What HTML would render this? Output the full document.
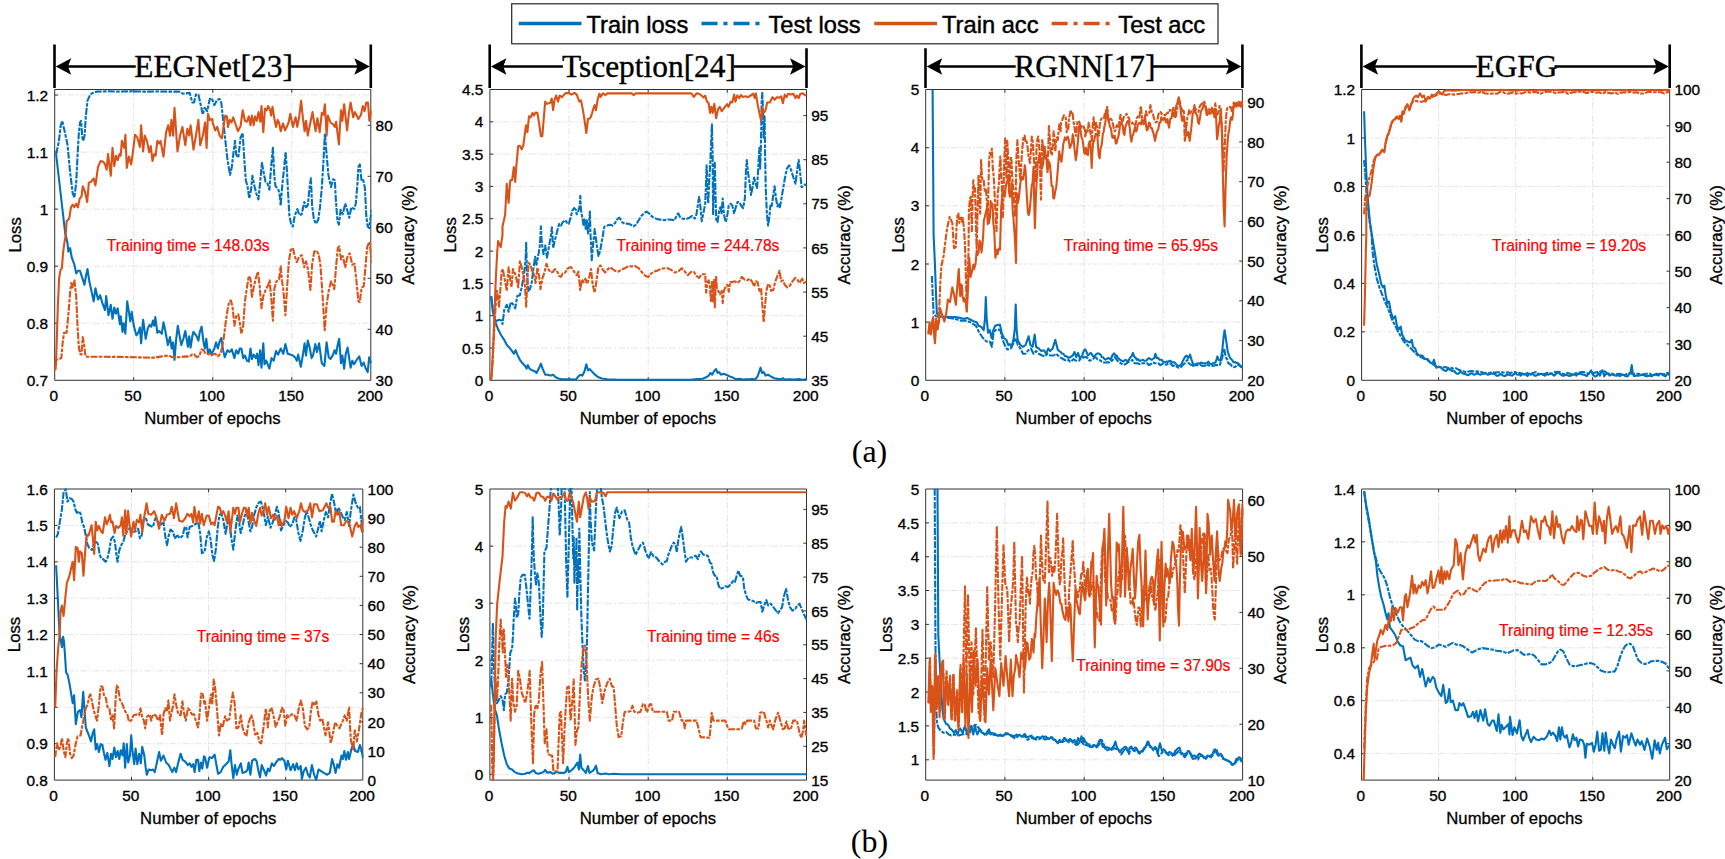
<!DOCTYPE html>
<html><head><meta charset="utf-8"><title>Training curves</title><style>html,body{margin:0;padding:0;background:#fff}svg{display:block}</style></head><body>
<svg width="1725" height="859" viewBox="0 0 1725 859" font-family="'Liberation Sans',Arial,sans-serif">
<rect width="1725" height="859" fill="#fff"/>
<g id="p1">
<clipPath id="c1"><rect x="54.1" y="88.5" width="317.5" height="292.8"/></clipPath>
<path d="M133.7,89.5V380.3M212.8,89.5V380.3M291.8,89.5V380.3M54.7,323.2H370.8M54.7,266.2H370.8M54.7,209.1H370.8M54.7,152.1H370.8M54.7,95.0H370.8" stroke="#e5e5e5" stroke-width="1" stroke-dasharray="7 1.9 2 1.9" fill="none"/>
<path d="M54.7,89.5H370.8V380.3H54.7ZM133.7,380.3v-3.2M133.7,89.5v3.2M212.8,380.3v-3.2M212.8,89.5v3.2M291.8,380.3v-3.2M291.8,89.5v3.2M54.7,323.2h3.2M54.7,266.2h3.2M54.7,209.1h3.2M54.7,152.1h3.2M54.7,95.0h3.2M370.8,329.3h-3.2M370.8,278.3h-3.2M370.8,227.3h-3.2M370.8,176.3h-3.2M370.8,125.3h-3.2" stroke="#333333" stroke-width="1" fill="none"/>
<g clip-path="url(#c1)" fill="none" stroke-linejoin="round" stroke-linecap="butt">
<polyline points="56.1,154.0 65.4,235.0 65.7,235.0 67.5,242.9 68.3,251.6 70.1,248.1 71.8,257.7 74.4,264.7 76.2,273.4 77.9,270.8 80.0,270.8 82.3,277.8 84.4,284.8 86.1,275.2 87.5,269.0 89.3,281.3 91.4,290.9 93.7,301.4 95.4,288.3 98.0,299.6 100.1,295.2 102.4,303.1 105.0,310.1 106.2,296.1 108.5,315.3 110.8,304.8 112.5,318.8 114.3,307.5 116.0,313.6 117.7,308.3 119.8,324.1 120.7,316.2 122.5,331.9 123.7,323.2 125.4,333.7 127.2,301.4 128.9,311.8 130.3,321.4 131.7,311.8 133.8,325.8 136.4,335.4 138.2,332.8 139.9,327.5 141.1,343.3 143.1,319.7 145.7,338.9 147.8,328.4 149.5,324.9 151.3,326.7 153.0,320.6 154.2,325.8 155.3,317.1 157.4,332.8 159.1,331.0 161.8,333.7 163.5,322.3 165.2,330.2 167.9,345.0 170.0,337.1 171.7,348.5 173.1,342.4 174.5,359.8 176.1,339.8 177.8,325.8 180.1,338.9 181.3,345.0 183.6,338.0 185.3,331.0 187.9,346.8 189.2,336.3 190.6,347.6 192.3,336.3 193.5,331.9 196.7,336.3 198.4,340.6 199.8,331.9 201.6,326.7 203.7,343.3 204.9,348.5 206.3,338.9 208.0,353.7 209.8,349.4 211.5,354.6 211.7,353.7 214.4,348.5 216.1,342.4 217.9,348.5 219.6,341.5 221.3,338.0 223.1,350.2 224.8,357.2 227.5,350.2 229.6,352.0 231.8,349.4 234.4,358.1 236.2,350.2 238.3,353.7 239.7,348.5 241.4,348.5 243.2,358.1 244.9,355.5 247.0,360.7 248.8,361.6 250.5,348.5 251.9,359.0 253.7,354.6 255.7,358.1 257.1,353.7 258.5,365.1 260.1,350.2 261.5,367.7 263.3,343.3 264.5,364.2 266.2,360.7 269.4,368.6 271.5,358.1 273.7,360.7 276.0,351.1 278.1,354.6 280.7,348.5 283.3,353.7 285.4,344.1 287.7,353.7 290.3,354.6 292.9,355.5 295.6,358.1 296.8,360.7 298.2,354.6 300.8,366.8 303.1,353.7 304.6,343.3 306.0,355.5 307.8,340.6 309.5,346.8 311.6,358.1 313.0,355.5 315.3,344.1 316.9,352.0 319.1,343.3 321.8,363.3 324.4,366.0 326.6,342.4 328.7,357.2 330.5,359.0 333.1,354.6 334.5,350.2 336.1,353.7 338.0,343.3 339.2,338.9 341.0,363.3 342.4,355.5 344.1,368.6 345.8,353.7 347.6,347.6 350.6,367.7 352.3,360.7 354.1,364.2 356.7,359.8 359.3,356.4 361.6,366.0 363.7,362.5 365.4,367.7 367.7,372.1 369.2,357.2 370.6,362.5 371.5,360.7" stroke="#0072BD" stroke-width="2.1"/>
<polyline points="56.1,154.0 58.7,142.6 60.8,125.2 62.2,120.8 64.8,132.1 67.5,144.4 70.1,172.3 72.7,193.3 74.4,197.6 76.2,182.8 77.6,154.8 78.8,133.9 80.0,122.5 81.1,120.8 82.3,137.4 83.2,140.9 84.6,135.6 85.8,116.4 87.5,100.7 90.2,94.6 93.7,92.3 97.1,91.6 107.6,91.3 119.8,91.6 132.1,91.3 144.3,91.6 156.5,91.5 168.7,91.6 179.2,91.6 182.7,93.7 189.7,92.9 192.3,102.5 194.1,102.5 195.8,94.6 198.4,94.6 200.2,102.5 202.8,114.7 204.5,107.7 207.2,111.2 209.8,99.0 211.5,98.1 211.7,98.1 214.4,105.1 217.0,99.8 219.6,99.0 221.3,102.5 223.1,119.9 224.8,135.6 227.5,160.1 230.1,174.9 231.8,167.1 233.6,151.4 235.0,140.9 236.2,154.8 238.3,157.5 240.6,137.4 242.7,133.0 244.0,154.8 245.8,180.2 247.5,186.3 249.3,198.5 251.0,189.8 252.4,175.8 254.5,186.3 256.3,193.3 258.4,199.4 260.1,182.8 261.9,162.7 263.3,170.6 265.5,181.9 267.6,183.7 269.4,189.8 271.1,167.1 272.9,147.9 274.3,175.8 275.5,186.3 278.1,188.9 279.5,193.3 280.7,205.5 282.5,182.8 284.2,167.1 285.6,152.2 286.8,168.8 288.1,193.3 289.4,216.0 291.2,224.7 292.9,226.4 294.7,216.0 297.3,209.0 299.4,215.1 301.7,214.2 304.3,202.0 306.0,207.2 307.8,205.5 309.5,188.0 310.9,178.4 312.1,205.5 313.9,219.5 316.0,223.8 318.3,219.5 320.0,207.2 321.8,188.0 323.5,160.1 324.9,133.0 326.6,154.8 328.4,174.9 331.0,187.1 333.1,179.3 334.8,180.2 336.1,203.7 337.5,221.2 338.9,224.7 340.6,209.8 342.7,214.2 345.3,203.7 347.4,210.7 349.2,217.7 351.4,207.2 354.1,209.0 355.8,203.7 357.5,182.8 358.4,167.1 359.8,164.4 361.6,181.0 363.3,180.2 364.9,188.0 366.3,216.0 367.7,226.4 369.2,228.2 370.6,217.7 371.5,209.8" stroke="#0072BD" stroke-width="2.1" stroke-dasharray="6.9 1.3 3.6 1.3"/>
<polyline points="55.2,370.3 56.1,360.7 57.0,332.8 57.9,304.8 59.1,278.7 60.5,269.9 61.9,268.2 63.1,252.5 64.3,243.7 65.7,235.0 66.6,221.2 69.2,218.6 71.0,207.2 72.7,204.6 74.4,207.2 76.2,203.7 77.9,207.2 79.7,198.5 81.4,196.8 82.8,186.3 84.9,191.5 87.2,202.0 88.8,182.8 91.0,181.9 93.7,178.4 95.4,185.4 98.0,167.1 100.6,161.0 103.3,161.8 105.0,164.4 106.7,169.7 108.0,154.0 110.8,175.8 112.5,147.9 114.3,166.2 116.0,155.7 117.7,160.1 119.5,154.0 120.7,155.7 121.9,140.9 124.2,147.9 125.4,134.8 126.8,167.9 128.9,156.6 131.2,164.4 132.9,152.2 135.0,134.8 137.3,137.4 139.9,147.0 141.1,125.2 143.1,151.4 144.8,135.6 146.9,140.9 149.2,152.2 150.8,146.1 152.5,161.0 154.2,154.0 155.6,155.7 157.4,140.9 159.1,143.5 160.5,140.9 163.5,156.6 166.1,132.1 168.2,125.2 170.0,135.6 171.4,119.9 173.1,135.6 174.5,107.7 177.5,151.4 180.1,135.6 182.4,126.9 185.3,145.2 187.4,128.7 189.2,135.6 190.6,125.2 193.5,149.6 195.8,136.5 198.4,119.9 200.2,145.2 202.8,135.6 205.1,122.5 206.6,147.9 208.0,113.8 209.8,119.9 212.4,119.0 212.6,122.5 215.2,130.4 217.3,126.9 219.6,135.6 221.9,138.3 224.0,123.4 225.2,115.6 226.9,116.4 228.0,126.9 229.7,119.9 231.5,122.5 233.2,117.3 236.2,126.0 237.9,131.3 240.6,126.0 242.7,110.3 244.9,120.8 247.0,121.7 248.8,116.4 250.5,125.2 251.9,115.6 253.7,125.2 255.0,116.4 256.8,120.8 258.5,112.1 260.3,121.7 261.5,106.0 263.3,132.1 265.0,108.6 266.7,110.3 268.1,106.0 270.2,110.3 271.1,115.6 272.5,106.8 274.3,118.2 276.0,126.9 277.7,119.9 279.0,122.5 280.7,131.3 283.0,123.4 285.1,130.4 286.8,126.9 288.6,122.5 290.3,113.8 292.9,126.9 295.6,117.3 297.3,126.9 299.1,117.3 301.1,100.7 302.9,118.2 304.6,131.3 306.0,120.8 307.8,135.6 310.4,122.5 312.5,112.1 314.2,122.5 315.6,131.3 317.4,118.2 319.7,132.1 321.8,112.9 323.5,114.7 324.9,104.2 326.6,135.6 327.9,115.6 330.5,122.5 333.1,124.3 334.8,126.9 336.1,121.7 338.9,144.4 341.0,110.3 342.4,120.8 344.1,104.2 347.1,130.4 348.8,113.8 350.6,102.5 353.2,117.3 354.9,112.1 358.4,119.0 361.0,114.7 362.8,106.0 364.5,111.2 366.3,102.5 368.0,102.5 369.4,120.8 371.5,110.3" stroke="#D95319" stroke-width="2.1"/>
<polyline points="55.2,369.5 56.1,359.8 58.7,359.3 61.3,358.1 62.6,343.3 64.0,332.8 66.6,332.8 68.3,315.3 70.1,292.6 71.3,283.0 72.7,287.4 74.4,280.4 76.2,296.1 77.6,327.5 78.8,346.8 80.0,353.7 81.4,354.6 82.7,337.1 84.0,343.3 85.4,356.4 87.5,356.7 119.8,356.9 149.5,357.6 154.8,357.6 161.8,356.4 168.7,355.5 172.2,357.2 179.2,357.2 186.2,356.4 189.7,356.7 192.3,354.3 194.1,354.3 196.7,357.2 199.3,356.0 201.6,349.4 203.7,350.2 205.4,353.7 208.0,353.7 211.5,355.5 212.6,354.6 215.2,353.7 217.9,356.4 220.5,353.7 222.2,346.8 224.0,336.3 225.7,322.3 227.5,310.1 229.2,301.4 231.0,300.5 232.7,308.3 234.4,325.8 236.2,316.2 238.3,314.4 239.7,322.3 241.4,333.7 243.2,325.8 244.9,301.4 246.7,289.1 248.8,276.0 250.5,278.7 251.9,297.0 253.7,287.4 255.7,278.7 258.0,271.7 259.8,287.4 261.5,308.3 263.3,296.1 265.9,289.1 268.0,285.6 269.7,280.4 271.5,301.4 272.9,320.6 274.3,289.1 276.4,281.3 279.0,279.5 280.7,266.4 281.9,280.4 283.3,289.1 285.4,315.3 287.2,285.6 288.9,261.2 290.7,249.8 292.9,248.1 294.7,256.0 296.8,262.1 299.1,256.8 301.7,255.1 304.3,267.3 306.0,261.2 308.1,269.9 310.4,290.0 312.1,264.7 314.2,251.6 316.5,250.7 318.6,254.2 320.4,264.7 322.6,296.1 324.7,330.2 326.6,304.8 328.7,290.9 331.0,281.3 333.1,285.6 334.3,289.1 336.1,266.4 337.8,248.1 339.2,246.3 341.0,259.4 342.7,256.0 345.3,267.3 347.1,257.7 349.7,253.3 352.3,264.7 354.6,263.8 356.7,283.9 358.4,301.4 359.8,302.2 361.6,287.4 363.7,286.5 365.4,267.3 367.2,247.2 369.2,242.0 370.6,250.7 371.5,262.9" stroke="#D95319" stroke-width="2.1" stroke-dasharray="6.9 1.3 3.6 1.3"/>
</g>
<g font-size="15.4" fill="#000" stroke="#000" stroke-width="0.35">
<text x="53.9" y="400.9" text-anchor="middle">0</text>
<text x="132.9" y="400.9" text-anchor="middle">50</text>
<text x="211.9" y="400.9" text-anchor="middle">100</text>
<text x="291.0" y="400.9" text-anchor="middle">150</text>
<text x="370.0" y="400.9" text-anchor="middle">200</text>
<text x="48.2" y="385.9" text-anchor="end">0.7</text>
<text x="48.2" y="328.8" text-anchor="end">0.8</text>
<text x="48.2" y="271.8" text-anchor="end">0.9</text>
<text x="48.2" y="214.7" text-anchor="end">1</text>
<text x="48.2" y="157.7" text-anchor="end">1.1</text>
<text x="48.2" y="100.6" text-anchor="end">1.2</text>
<text x="375.6" y="385.9">30</text>
<text x="375.6" y="334.9">40</text>
<text x="375.6" y="283.9">50</text>
<text x="375.6" y="232.9">60</text>
<text x="375.6" y="181.9">70</text>
<text x="375.6" y="130.9">80</text>
</g>
<g font-size="16.7" fill="#000" stroke="#000" stroke-width="0.3" text-anchor="middle">
<text x="212.4" y="423.8">Number of epochs</text>
<text transform="translate(20.700000000000003,234.9) rotate(-90)">Loss</text>
<text transform="translate(414.2,234.9) rotate(-90)">Accuracy (%)</text>
</g>
<text x="106.8" y="250.5" font-size="15.6" fill="#ff0000" stroke="#ff0000" stroke-width="0.2">Training time = 148.03s</text>
<path d="M54.5,44.6V88M370.8,44.6V88" stroke="#000" stroke-width="2.6"/>
<path d="M64.7,66.5H135.75M289.75,66.5H360.8" stroke="#000" stroke-width="2.3"/>
<path d="M55.7,66.5l15.5,-8.2l-3.2,8.2l3.2,8.2zM369.8,66.5l-15.5,-8.2l3.2,8.2l-3.2,8.2z" fill="#000"/>
<text x="213.6" y="76.9" font-family="'Liberation Serif',serif" font-size="31.4" text-anchor="middle" fill="#000" stroke="#000" stroke-width="0.35">EEGNet[23]</text>
</g>
<g id="p2">
<clipPath id="c2"><rect x="489.3" y="88.5" width="318.0" height="292.8"/></clipPath>
<path d="M569.0,89.5V380.3M648.2,89.5V380.3M727.3,89.5V380.3M489.9,348.0H806.5M489.9,315.7H806.5M489.9,283.4H806.5M489.9,251.1H806.5M489.9,218.7H806.5M489.9,186.4H806.5M489.9,154.1H806.5M489.9,121.8H806.5" stroke="#e5e5e5" stroke-width="1" stroke-dasharray="7 1.9 2 1.9" fill="none"/>
<path d="M489.9,89.5H806.5V380.3H489.9ZM569.0,380.3v-3.2M569.0,89.5v3.2M648.2,380.3v-3.2M648.2,89.5v3.2M727.3,380.3v-3.2M727.3,89.5v3.2M489.9,348.0h3.2M489.9,315.7h3.2M489.9,283.4h3.2M489.9,251.1h3.2M489.9,218.7h3.2M489.9,186.4h3.2M489.9,154.1h3.2M489.9,121.8h3.2M806.5,336.2h-3.2M806.5,292.1h-3.2M806.5,247.9h-3.2M806.5,203.8h-3.2M806.5,159.7h-3.2M806.5,115.6h-3.2" stroke="#333333" stroke-width="1" fill="none"/>
<g clip-path="url(#c2)" fill="none" stroke-linejoin="round" stroke-linecap="butt">
<polyline points="491.1,296.1 492.9,311.8 495.5,322.3 498.1,329.3 500.7,334.5 504.2,339.8 506.8,345.0 509.4,347.6 512.1,351.1 513.8,353.7 515.6,350.2 517.3,354.6 519.9,359.8 522.5,363.3 525.2,366.0 526.6,368.6 527.8,365.1 529.5,368.6 532.1,370.3 534.8,371.2 536.5,372.9 538.8,368.6 540.9,363.7 542.6,368.6 545.2,374.7 547.9,374.7 550.5,375.6 553.1,374.7 555.7,377.3 558.3,378.5 561.8,379.2 568.8,379.2 575.8,379.6 578.4,376.4 580.7,374.7 582.4,375.6 584.5,371.2 586.3,364.2 588.0,370.3 589.8,369.1 592.4,372.1 595.0,374.7 598.5,377.3 602.0,378.5 607.2,379.2 616.0,379.6 633.4,379.8 650.0,379.8 652.0,379.9 676.4,379.9 690.4,379.8 697.4,379.1 702.6,378.7 706.1,377.3 708.7,375.6 710.5,372.9 712.2,374.7 714.0,371.2 716.1,369.1 717.5,372.9 719.2,372.1 721.0,374.7 723.6,373.8 726.2,374.7 729.7,376.4 732.3,377.3 735.8,379.2 739.3,378.9 742.8,379.6 746.3,379.2 749.8,379.2 752.4,378.9 755.0,379.6 757.6,376.4 759.4,371.2 760.6,367.7 762.0,372.9 763.7,372.1 765.5,375.6 768.1,374.7 770.7,376.4 774.2,378.2 777.7,378.9 781.2,379.2 782.9,378.2 784.7,379.6 789.9,379.2 795.2,379.6 798.7,379.1 802.2,379.8 806.5,379.2" stroke="#0072BD" stroke-width="2.1"/>
<polyline points="491.1,296.1 492.9,310.1 495.5,321.4 499.0,319.7 501.6,320.6 502.5,324.1 504.2,310.1 506.8,304.8 508.6,311.8 510.8,302.2 512.9,304.0 515.2,308.3 517.3,296.1 519.9,295.2 521.7,287.4 523.8,276.0 525.5,261.2 526.2,242.9 526.9,269.9 528.1,290.9 530.0,289.1 531.8,282.1 533.5,268.2 535.1,256.8 536.5,264.7 538.3,255.1 539.7,247.2 540.5,235.0 540.9,226.4 541.7,242.0 543.5,254.2 545.2,245.5 547.0,257.7 548.7,248.1 551.0,235.0 551.9,227.3 553.1,248.1 554.8,240.2 556.2,235.0 557.5,229.9 559.2,223.8 561.0,225.6 562.7,222.1 565.3,220.3 567.1,222.9 568.8,223.8 570.6,217.7 572.3,210.7 574.1,208.1 575.8,209.8 576.7,214.2 578.4,210.7 579.8,205.5 580.3,195.9 581.0,210.7 582.4,217.7 583.7,226.4 584.5,219.5 585.9,229.9 586.8,220.3 588.0,233.4 588.9,222.9 589.4,219.5 589.9,211.6 590.5,235.0 591.2,245.5 591.7,260.3 592.7,248.1 594.1,235.0 594.7,229.1 595.4,235.0 596.8,245.5 598.5,256.0 600.2,250.7 602.0,240.2 603.0,235.0 603.7,229.1 604.6,226.4 607.2,225.6 609.8,224.7 612.5,225.6 615.1,222.9 617.7,218.6 619.5,217.7 622.1,222.1 624.7,223.8 627.3,223.5 629.9,224.2 633.4,226.4 636.0,224.7 638.7,220.3 641.3,216.0 643.9,213.3 646.5,211.6 649.1,213.3 650.2,215.1 653.7,217.7 657.2,219.1 660.7,219.8 664.2,220.3 667.7,219.5 671.2,219.8 674.7,220.3 676.8,215.1 678.2,213.3 679.9,216.8 682.5,218.6 686.0,219.1 689.5,217.7 692.1,216.0 694.8,218.6 696.5,214.2 698.3,202.0 699.1,196.8 700.5,207.2 701.7,221.2 703.5,212.5 705.2,203.7 706.1,181.0 706.6,165.3 707.5,189.8 708.2,203.7 709.3,179.3 710.5,158.3 711.4,137.4 711.9,124.3 712.6,154.8 713.1,214.2 714.0,182.8 714.8,162.7 715.4,189.8 716.2,219.5 717.5,222.1 719.2,210.7 720.4,207.2 721.5,213.3 722.7,198.5 723.9,214.2 725.7,222.1 727.1,216.0 728.8,205.5 730.6,203.7 732.3,205.5 734.1,213.3 735.8,207.2 737.5,202.0 739.3,202.0 741.0,205.5 743.1,208.1 744.9,198.5 745.9,172.3 746.8,160.1 748.0,172.3 749.8,184.5 751.0,195.0 752.4,188.0 754.1,177.5 755.9,184.5 757.1,188.0 758.5,163.6 759.4,147.9 760.2,168.8 761.1,137.4 761.6,102.5 762.3,92.9 763.0,111.2 763.7,137.4 764.6,116.4 765.1,154.8 765.8,189.8 766.9,214.2 768.1,225.6 769.3,217.7 770.4,205.5 771.6,207.2 773.3,195.0 774.6,186.3 776.0,198.5 777.4,206.4 778.6,204.6 779.8,207.2 781.2,200.2 782.9,189.8 784.7,179.3 786.8,168.8 789.1,165.3 791.3,170.6 793.4,177.5 795.5,183.7 797.3,168.8 798.7,160.1 800.1,172.3 801.6,187.1 803.0,186.3 804.8,184.5 806.5,185.4" stroke="#0072BD" stroke-width="2.1" stroke-dasharray="6.9 1.3 3.6 1.3"/>
<polyline points="491.1,379.9 492.0,371.2 493.4,339.8 494.6,310.1 495.8,278.7 497.2,252.5 498.1,241.1 500.7,247.2 502.5,235.0 502.5,226.4 505.1,215.1 506.8,183.7 508.6,202.9 510.3,180.2 512.1,180.2 513.8,167.1 515.2,181.9 516.4,165.3 518.2,146.1 519.9,145.8 521.7,149.3 523.4,145.2 526.0,125.2 527.4,132.1 529.0,116.4 530.7,117.3 532.5,112.9 533.9,115.6 535.6,112.6 537.4,112.9 539.1,123.4 540.9,136.2 542.3,136.2 543.5,121.7 545.2,101.6 547.0,103.9 550.5,102.5 551.7,98.6 553.1,110.0 554.5,99.8 556.2,95.5 558.0,101.6 559.7,95.5 561.8,97.2 565.3,93.4 568.8,92.9 571.4,94.6 574.4,92.9 576.7,94.6 579.3,101.6 581.0,100.4 582.8,109.4 584.5,119.9 586.3,133.0 588.0,119.0 590.3,118.2 591.9,113.8 593.6,107.7 594.7,105.1 595.9,110.3 597.6,99.8 599.4,93.7 600.6,96.9 602.9,93.4 605.5,95.1 607.2,93.4 631.7,93.4 633.8,95.1 635.5,93.4 650.0,93.4 652.0,93.4 691.3,93.4 693.9,96.9 696.5,93.4 699.1,93.7 701.7,95.8 703.5,97.6 705.2,95.8 707.0,101.6 708.7,103.3 710.0,112.9 711.4,106.8 712.7,112.9 714.3,103.9 716.1,118.2 718.0,109.4 719.7,106.8 721.8,111.2 724.4,107.7 727.1,104.2 728.5,106.8 730.6,101.6 732.3,102.5 734.1,94.6 735.4,101.6 737.2,95.5 739.3,98.1 741.0,95.1 742.8,96.9 745.4,96.3 748.0,97.2 750.6,95.5 753.3,93.7 754.7,98.1 755.9,93.4 757.6,104.2 759.4,112.9 761.1,120.8 762.5,107.7 763.7,112.9 765.5,110.3 767.2,102.5 769.8,102.5 772.5,97.2 774.6,99.8 776.8,97.2 779.5,97.6 781.2,96.3 782.9,103.3 784.7,94.6 786.4,97.2 788.2,93.7 790.8,94.6 793.4,93.7 795.5,98.1 796.9,95.5 798.7,98.1 800.4,93.7 803.0,93.4 804.8,95.1 806.5,95.1" stroke="#D95319" stroke-width="2.1"/>
<polyline points="491.1,379.9 492.9,357.2 494.1,332.8 495.5,308.3 496.9,290.9 498.1,297.9 499.0,306.6 500.4,289.1 501.6,271.7 502.8,269.0 504.2,276.9 505.6,283.9 506.8,290.9 508.6,267.3 510.3,280.4 511.5,287.4 512.9,269.0 514.7,272.5 516.4,278.7 518.2,287.4 519.9,261.2 521.7,267.3 523.4,275.2 524.8,283.9 526.2,306.6 527.3,280.4 528.7,262.9 530.4,264.7 532.1,270.8 533.9,274.3 535.6,283.0 537.4,267.3 539.1,276.0 540.5,289.1 542.3,278.7 544.4,272.5 546.5,263.8 548.7,269.9 551.0,272.5 553.1,271.7 554.8,269.0 556.9,270.8 559.2,276.0 561.0,276.9 562.7,273.4 565.3,272.5 567.1,269.0 569.7,267.3 571.4,267.3 574.1,271.7 576.7,275.2 578.4,271.7 580.2,290.0 581.9,279.5 583.7,282.1 585.4,278.7 587.1,283.9 588.9,278.7 591.0,269.0 592.7,284.8 594.7,292.6 596.8,278.7 598.5,266.4 600.6,265.6 602.9,269.9 605.1,272.5 607.2,269.9 609.8,267.3 612.5,269.0 615.1,270.8 617.7,271.7 621.2,269.9 624.7,268.2 628.2,266.4 631.7,266.4 635.2,266.1 638.7,268.2 642.2,272.5 645.6,276.0 648.3,276.9 650.2,274.3 653.7,271.7 657.2,270.8 660.7,269.0 664.2,268.2 667.7,268.2 671.2,269.9 674.7,272.5 678.2,271.7 681.7,268.2 684.3,270.8 687.8,275.2 691.3,271.7 693.9,271.7 696.5,276.0 699.1,277.8 701.7,274.3 705.2,274.3 706.1,292.6 707.5,282.1 708.7,280.4 710.0,287.4 711.0,302.2 712.2,280.4 713.1,301.4 714.3,278.7 714.8,307.5 716.1,276.0 716.9,289.1 718.3,290.9 720.1,294.4 721.8,290.9 722.7,303.1 723.9,290.9 725.7,286.5 727.4,284.8 728.8,291.7 730.2,282.1 732.3,282.1 734.9,281.3 737.5,283.0 740.2,280.4 741.9,276.9 744.5,279.5 747.1,280.4 749.8,278.7 752.4,282.1 754.1,286.5 755.9,281.3 757.6,282.1 759.4,290.9 761.1,289.1 762.3,304.8 763.7,322.3 765.1,304.8 766.4,290.9 768.1,283.9 769.8,285.6 771.1,290.9 773.3,290.0 775.1,282.1 777.4,276.0 779.5,270.8 781.2,281.3 782.9,280.4 784.7,284.8 787.3,287.4 789.9,285.6 792.5,281.3 795.2,277.8 797.3,279.5 799.5,283.0 802.2,278.7 804.2,283.0 806.5,281.3" stroke="#D95319" stroke-width="2.1" stroke-dasharray="6.9 1.3 3.6 1.3"/>
</g>
<g font-size="15.4" fill="#000" stroke="#000" stroke-width="0.35">
<text x="489.1" y="400.9" text-anchor="middle">0</text>
<text x="568.2" y="400.9" text-anchor="middle">50</text>
<text x="647.4" y="400.9" text-anchor="middle">100</text>
<text x="726.5" y="400.9" text-anchor="middle">150</text>
<text x="805.7" y="400.9" text-anchor="middle">200</text>
<text x="483.4" y="385.9" text-anchor="end">0</text>
<text x="483.4" y="353.6" text-anchor="end">0.5</text>
<text x="483.4" y="321.3" text-anchor="end">1</text>
<text x="483.4" y="289.0" text-anchor="end">1.5</text>
<text x="483.4" y="256.7" text-anchor="end">2</text>
<text x="483.4" y="224.3" text-anchor="end">2.5</text>
<text x="483.4" y="192.0" text-anchor="end">3</text>
<text x="483.4" y="159.7" text-anchor="end">3.5</text>
<text x="483.4" y="127.4" text-anchor="end">4</text>
<text x="483.4" y="95.1" text-anchor="end">4.5</text>
<text x="811.3" y="385.9">35</text>
<text x="811.3" y="341.8">45</text>
<text x="811.3" y="297.7">55</text>
<text x="811.3" y="253.5">65</text>
<text x="811.3" y="209.4">75</text>
<text x="811.3" y="165.3">85</text>
<text x="811.3" y="121.2">95</text>
</g>
<g font-size="16.7" fill="#000" stroke="#000" stroke-width="0.3" text-anchor="middle">
<text x="647.9" y="423.8">Number of epochs</text>
<text transform="translate(455.9,234.9) rotate(-90)">Loss</text>
<text transform="translate(849.9,234.9) rotate(-90)">Accuracy (%)</text>
</g>
<text x="616.6" y="250.5" font-size="15.6" fill="#ff0000" stroke="#ff0000" stroke-width="0.2">Training time = 244.78s</text>
<path d="M489.7,44.6V88M806.5,48.2V88" stroke="#000" stroke-width="2.6"/>
<path d="M499.9,66.5H562.9000000000001M733.5,66.5H796.5" stroke="#000" stroke-width="2.3"/>
<path d="M490.9,66.5l15.5,-8.2l-3.2,8.2l3.2,8.2zM805.5,66.5l-15.5,-8.2l3.2,8.2l-3.2,8.2z" fill="#000"/>
<text x="649.0" y="76.9" font-family="'Liberation Serif',serif" font-size="31.4" text-anchor="middle" fill="#000" stroke="#000" stroke-width="0.35">Tsception[24]</text>
</g>
<g id="p3">
<clipPath id="c3"><rect x="925.1" y="88.5" width="318.1" height="292.8"/></clipPath>
<path d="M1004.9,89.5V380.3M1084.1,89.5V380.3M1163.2,89.5V380.3M925.7,322.1H1242.4M925.7,264.0H1242.4M925.7,205.8H1242.4M925.7,147.7H1242.4" stroke="#e5e5e5" stroke-width="1" stroke-dasharray="7 1.9 2 1.9" fill="none"/>
<path d="M925.7,89.5H1242.4V380.3H925.7ZM1004.9,380.3v-3.2M1004.9,89.5v3.2M1084.1,380.3v-3.2M1084.1,89.5v3.2M1163.2,380.3v-3.2M1163.2,89.5v3.2M925.7,322.1h3.2M925.7,264.0h3.2M925.7,205.8h3.2M925.7,147.7h3.2M1242.4,340.6h-3.2M1242.4,300.8h-3.2M1242.4,261.1h-3.2M1242.4,221.4h-3.2M1242.4,181.7h-3.2M1242.4,141.9h-3.2M1242.4,102.2h-3.2" stroke="#333333" stroke-width="1" fill="none"/>
<g clip-path="url(#c3)" fill="none" stroke-linejoin="round" stroke-linecap="butt">
<polyline points="932.6,89.7 933.6,235.0 934.8,261.2 936.1,296.1 936.9,313.6 939.2,316.2 944.4,316.7 949.7,317.1 954.9,317.1 960.2,317.9 963.7,318.8 967.1,317.9 970.6,319.7 974.1,321.4 976.7,322.3 978.5,325.8 981.1,326.7 983.7,330.2 985.0,318.8 985.8,297.0 986.7,318.8 988.1,332.8 989.8,330.2 991.6,338.0 993.3,330.2 995.1,325.8 997.7,324.9 1000.0,324.9 1001.7,332.8 1003.8,338.0 1006.4,339.8 1008.2,345.0 1009.9,344.1 1011.7,346.8 1013.4,339.8 1014.8,329.3 1015.7,304.5 1016.6,329.3 1017.8,340.6 1020.4,345.0 1023.0,346.8 1025.6,345.0 1027.4,339.8 1028.6,336.3 1030.4,345.0 1032.6,346.8 1034.7,334.5 1036.1,346.8 1038.7,348.5 1041.4,351.1 1044.0,350.2 1046.1,353.7 1048.3,348.5 1050.1,351.1 1052.7,348.5 1055.3,339.8 1057.9,350.2 1060.6,352.0 1062.0,353.5 1063.2,353.7 1065.2,356.3 1066.7,356.4 1068.7,357.9 1070.2,357.2 1071.1,356.5 1072.8,355.5 1074.5,352.0 1076.3,357.2 1078.0,352.9 1079.8,358.1 1081.4,356.8 1082.4,355.5 1082.6,353.7 1084.2,350.1 1085.2,349.4 1086.5,351.8 1087.9,355.5 1089.2,354.3 1090.5,352.9 1091.4,353.4 1093.1,356.4 1094.2,356.6 1095.7,354.6 1097.7,353.3 1099.2,353.7 1100.8,354.9 1101.8,357.2 1103.2,357.3 1104.4,359.0 1105.7,359.6 1107.9,358.1 1109.0,358.1 1110.6,359.8 1112.3,355.5 1114.0,353.4 1115.7,355.6 1116.7,355.5 1117.8,358.1 1119.3,359.0 1120.6,360.3 1121.9,360.7 1123.3,361.4 1125.4,359.8 1127.3,361.0 1128.9,359.8 1130.5,357.2 1131.5,356.4 1132.9,352.9 1134.5,357.2 1135.5,357.6 1136.7,359.8 1137.8,359.1 1139.4,360.7 1140.9,360.6 1142.9,359.8 1144.1,360.6 1146.4,360.7 1147.5,359.1 1149.0,358.1 1150.5,359.1 1151.6,359.8 1152.8,359.0 1154.2,358.1 1155.4,353.7 1156.8,358.1 1158.3,358.0 1159.4,359.8 1161.7,359.8 1162.9,361.6 1164.9,362.4 1166.4,361.6 1167.7,362.0 1169.9,360.7 1171.5,361.7 1173.4,362.5 1174.6,362.3 1176.9,365.1 1178.3,366.2 1180.4,365.1 1181.5,363.9 1183.0,360.7 1184.8,357.2 1186.5,355.5 1188.3,358.1 1190.0,354.6 1191.8,360.7 1193.4,364.5 1194.4,365.1 1196.0,363.9 1197.9,363.3 1199.6,363.6 1201.4,362.5 1202.7,363.4 1204.8,363.3 1206.9,363.2 1208.3,361.6 1209.6,363.6 1211.8,364.2 1213.1,363.2 1215.3,362.5 1216.4,360.2 1217.4,356.4 1218.8,359.8 1220.6,360.7 1222.3,350.2 1223.5,338.0 1224.6,330.2 1225.8,338.0 1227.5,350.2 1228.7,354.8 1230.2,358.1 1232.0,359.9 1233.7,362.5 1235.2,362.1 1237.2,363.3 1238.1,363.1 1239.8,365.1 1241.2,366.8 1242.4,366.0" stroke="#0072BD" stroke-width="2.1"/>
<polyline points="931.9,276.0 932.6,292.6 933.6,313.6 935.7,316.2 939.2,316.7 944.4,317.4 949.7,317.9 954.9,318.8 960.2,320.6 965.4,320.6 970.6,322.3 975.9,325.8 979.4,332.8 982.9,338.0 986.4,341.5 989.8,341.5 991.9,346.8 993.3,334.5 995.1,330.2 997.7,329.3 1000.3,330.2 1002.1,338.0 1004.7,345.0 1007.3,349.4 1010.8,348.5 1013.4,343.3 1015.7,338.0 1017.8,345.0 1020.4,348.5 1023.0,353.7 1025.6,353.7 1028.3,350.2 1030.9,348.5 1033.5,353.7 1036.1,351.1 1038.7,353.7 1042.2,355.5 1044.8,356.4 1047.5,353.7 1050.1,355.5 1053.6,355.5 1056.2,353.7 1059.7,357.2 1063.2,359.0 1065.2,360.3 1066.7,359.8 1068.4,360.1 1070.2,361.6 1071.4,361.1 1073.7,359.0 1075.4,360.5 1077.2,360.7 1078.8,360.6 1080.6,359.0 1081.9,358.9 1083.5,357.2 1085.5,357.0 1087.0,357.2 1088.3,359.5 1089.6,360.7 1091.0,360.1 1093.1,359.0 1094.6,357.4 1095.7,357.2 1097.3,359.2 1098.3,359.8 1100.4,360.5 1101.8,361.6 1103.1,362.6 1105.3,362.5 1107.4,362.3 1108.8,362.5 1110.1,361.1 1112.3,360.7 1113.7,358.3 1114.9,357.2 1116.6,359.7 1117.5,360.7 1119.0,362.2 1121.0,363.3 1123.0,364.8 1125.4,364.2 1127.6,362.6 1128.9,361.6 1130.8,361.1 1132.4,359.8 1134.4,363.1 1135.9,363.3 1137.4,363.3 1140.2,364.2 1142.6,363.3 1144.6,363.3 1146.9,363.3 1149.0,365.1 1151.7,363.5 1153.3,362.5 1154.7,363.2 1156.8,363.3 1158.4,363.4 1160.3,365.1 1162.5,363.8 1164.7,364.2 1166.5,364.7 1169.1,363.3 1171.0,363.6 1172.5,366.0 1175.1,365.3 1176.9,366.8 1178.9,367.8 1181.3,366.8 1183.1,364.5 1184.8,363.3 1186.0,361.5 1187.4,359.8 1188.4,362.7 1190.0,364.2 1191.3,364.7 1193.5,366.0 1196.0,365.2 1197.9,365.1 1200.7,365.0 1202.2,366.0 1205.0,365.8 1206.6,364.2 1209.0,365.6 1211.0,365.1 1213.1,365.9 1215.3,365.1 1217.9,365.1 1219.7,365.1 1221.0,361.7 1222.3,357.2 1224.1,348.5 1225.8,357.2 1227.0,359.1 1228.4,363.3 1230.4,364.3 1231.9,366.0 1233.6,367.1 1235.4,366.8 1236.8,365.0 1238.9,365.1 1240.2,366.3 1242.4,367.7" stroke="#0072BD" stroke-width="2.1" stroke-dasharray="6.9 1.3 3.6 1.3"/>
<polyline points="928.4,334.5 929.6,322.3 930.8,334.5 931.9,325.8 933.1,317.1 934.0,332.8 935.0,343.3 936.1,318.8 937.5,329.3 938.9,322.3 940.1,308.3 941.8,313.6 944.4,321.4 946.2,313.6 947.9,299.6 950.0,302.2 952.3,287.4 954.0,294.4 955.8,304.8 956.5,296.6 957.5,283.9 958.8,269.0 959.4,283.0 960.2,296.1 961.1,284.4 961.9,285.6 962.5,295.9 963.7,301.4 964.5,298.0 965.7,302.2 966.8,311.0 968.0,287.4 969.2,257.7 970.1,269.7 970.6,276.9 971.7,272.4 972.4,269.9 973.3,264.6 974.1,269.0 975.5,264.3 976.7,250.7 977.6,255.0 978.5,252.5 979.5,240.6 980.2,242.0 981.5,252.5 982.5,243.7 983.2,235.0 983.8,220.8 984.6,217.7 986.2,210.9 987.2,207.2 988.2,221.4 989.0,222.9 990.0,216.5 990.7,201.1 991.5,206.6 992.5,203.7 993.3,222.5 994.2,229.9 995.4,257.7 996.8,249.9 997.7,254.2 998.6,248.5 1000.0,249.8 1001.2,207.2 1002.3,195.2 1002.9,189.8 1003.9,190.7 1004.7,196.8 1005.6,188.1 1006.4,182.8 1007.2,180.8 1008.2,175.8 1009.1,192.5 1009.9,196.8 1010.9,195.0 1011.7,182.8 1012.7,210.9 1013.4,217.7 1014.9,237.9 1016.0,262.9 1016.9,193.3 1018.0,202.9 1018.7,198.5 1019.7,189.7 1020.4,182.8 1021.9,176.8 1023.0,179.3 1024.1,171.9 1024.8,165.3 1025.5,169.9 1026.5,189.8 1027.8,212.0 1028.6,215.1 1029.5,212.4 1030.9,196.8 1031.7,185.3 1032.6,182.8 1033.5,167.1 1034.1,197.6 1034.9,228.2 1036.0,194.0 1036.6,182.8 1037.6,164.3 1038.4,160.1 1039.4,154.8 1040.1,154.8 1041.4,169.1 1042.2,167.1 1043.1,164.4 1044.0,147.9 1044.7,146.6 1045.7,158.3 1046.6,159.2 1047.5,172.3 1048.2,166.7 1049.2,161.8 1050.1,165.4 1051.0,177.5 1051.6,185.9 1052.7,186.3 1053.3,198.1 1054.1,198.5 1055.4,190.3 1056.2,188.0 1057.0,178.9 1057.9,168.8 1059.2,151.4 1060.4,158.4 1061.4,161.8 1062.3,154.5 1063.2,144.4 1064.3,140.1 1064.9,137.4 1066.2,140.0 1067.5,136.5 1068.5,138.5 1069.8,147.9 1071.2,144.8 1071.9,142.6 1072.8,134.4 1073.7,140.0 1074.7,150.7 1075.8,160.1 1076.6,154.9 1078.0,140.9 1079.0,126.2 1079.8,125.2 1080.7,131.3 1081.5,137.4 1082.5,139.7 1083.3,145.2 1084.2,153.0 1085.0,153.1 1085.2,154.0 1085.9,147.8 1087.0,154.0 1087.9,155.1 1088.7,144.4 1089.3,142.3 1090.1,140.9 1091.0,152.6 1091.7,167.9 1092.3,153.7 1093.1,142.6 1093.9,141.5 1094.8,137.4 1095.6,134.1 1096.6,133.9 1097.4,134.4 1098.0,146.1 1098.8,155.8 1099.6,158.3 1100.6,148.3 1101.8,144.4 1102.9,133.5 1103.6,132.1 1104.3,127.3 1105.3,122.5 1106.5,112.9 1107.3,109.8 1107.9,117.3 1110.0,126.9 1110.8,127.9 1112.3,137.4 1113.1,137.9 1114.0,135.6 1114.7,136.0 1115.8,143.5 1116.5,143.5 1117.5,139.1 1118.2,137.7 1119.3,131.3 1120.2,123.9 1121.0,122.5 1121.9,124.0 1122.8,126.0 1123.6,133.6 1124.5,134.8 1125.2,127.4 1126.3,124.3 1127.4,121.4 1128.0,120.8 1128.7,122.5 1129.8,127.8 1130.6,137.4 1131.5,141.7 1132.2,136.5 1133.3,133.9 1134.2,130.6 1135.0,126.9 1136.1,131.5 1136.7,130.4 1137.9,124.7 1139.4,122.5 1140.9,124.4 1142.0,119.9 1142.6,123.1 1143.7,124.3 1145.0,116.4 1146.1,126.0 1146.9,130.4 1147.7,129.2 1149.0,122.5 1150.0,123.4 1150.7,127.8 1151.9,128.2 1153.0,132.1 1153.7,134.2 1155.1,140.9 1155.9,136.2 1156.8,132.1 1158.3,129.3 1159.4,122.5 1160.6,122.5 1161.2,117.3 1162.9,119.9 1163.8,118.2 1164.7,117.8 1165.9,122.5 1167.3,119.0 1168.2,124.1 1169.1,127.8 1170.0,119.6 1170.8,118.2 1171.5,118.3 1172.5,111.2 1173.5,115.3 1174.3,116.4 1175.0,112.1 1176.0,106.8 1177.4,102.5 1178.8,97.2 1180.4,107.7 1181.5,116.9 1182.1,120.8 1183.3,116.4 1183.9,117.3 1185.3,125.2 1186.9,135.6 1188.3,132.1 1189.7,140.9 1191.2,128.7 1192.6,114.7 1193.5,112.1 1194.4,105.1 1195.2,111.3 1196.1,113.8 1197.2,115.7 1198.2,122.5 1198.9,123.9 1200.1,117.3 1200.8,112.1 1201.9,109.4 1202.7,108.6 1203.6,104.2 1204.7,105.6 1205.4,106.8 1206.6,114.7 1207.5,115.0 1208.3,111.2 1209.1,111.4 1210.1,113.8 1211.3,112.4 1212.4,109.4 1213.1,109.6 1214.5,117.3 1215.8,111.2 1217.1,139.1 1217.8,135.2 1218.8,125.2 1219.8,120.7 1220.6,111.2 1221.8,128.7 1222.8,172.3 1223.7,207.2 1224.6,226.4 1225.5,189.8 1226.7,154.8 1228.1,135.6 1229.3,128.7 1230.3,120.4 1231.0,117.3 1232.1,119.7 1232.8,115.6 1233.6,106.6 1234.5,103.3 1235.3,103.4 1236.3,106.8 1237.0,102.6 1238.0,104.2 1238.7,106.1 1239.8,102.5 1240.4,104.5 1241.5,106.0 1242.2,101.6 1243.3,100.7" stroke="#D95319" stroke-width="2.1"/>
<polyline points="928.4,332.8 929.6,324.1 930.8,332.8 931.9,324.1 933.1,318.8 934.0,331.0 935.0,339.8 936.1,320.6 937.5,329.3 939.2,310.1 940.1,287.4 941.3,266.4 943.6,256.0 945.3,242.0 947.1,228.2 949.7,216.8 952.3,222.9 954.0,248.1 955.8,247.2 956.5,227.8 957.5,214.2 958.4,213.5 959.3,222.9 959.9,219.6 961.0,217.7 962.1,221.9 962.8,217.7 964.1,229.9 965.0,245.5 965.7,269.9 966.8,311.8 967.5,278.7 968.5,252.5 968.9,210.7 969.8,200.5 970.6,196.8 971.9,231.2 972.4,205.2 973.3,180.2 974.0,189.4 975.0,188.0 976.0,228.6 976.7,248.7 977.8,201.4 978.5,175.8 979.3,194.4 980.2,213.8 981.1,160.1 981.9,176.0 982.5,179.3 983.6,178.9 984.3,188.0 985.2,191.4 986.0,189.8 986.9,202.6 987.7,224.2 989.0,161.8 989.8,152.6 990.7,154.8 991.9,148.7 992.8,168.7 993.3,172.3 994.1,182.1 994.7,196.8 995.8,219.2 996.5,231.2 997.7,193.3 998.8,185.3 999.4,172.3 1000.3,156.6 1001.0,168.5 1001.7,182.8 1002.9,217.3 1003.7,185.1 1004.3,158.3 1005.2,138.3 1006.4,178.8 1007.3,140.9 1008.2,158.3 1009.4,191.1 1010.0,174.6 1010.8,156.6 1011.6,161.6 1012.2,175.8 1013.4,191.5 1014.1,202.6 1015.2,217.2 1016.4,158.3 1017.4,140.0 1018.7,160.1 1019.4,169.5 1020.4,180.6 1021.3,164.0 1022.1,151.4 1023.3,138.0 1023.9,137.4 1024.7,135.7 1025.6,142.6 1026.6,141.4 1027.4,146.1 1028.6,157.3 1030.0,163.1 1030.8,152.1 1031.8,136.5 1032.8,142.3 1033.5,154.8 1034.1,161.2 1035.2,182.3 1036.1,162.9 1036.6,146.1 1037.3,139.7 1038.2,136.5 1038.8,141.9 1039.6,151.4 1040.1,171.7 1041.0,199.8 1042.2,139.1 1043.3,150.9 1044.0,147.9 1045.0,158.3 1045.7,154.8 1046.3,156.7 1047.5,168.3 1048.4,145.1 1048.9,126.0 1050.1,142.6 1050.9,154.6 1051.8,154.8 1052.8,146.7 1053.6,131.3 1054.3,135.7 1055.3,151.4 1056.2,139.5 1057.1,137.4 1057.9,139.8 1058.8,128.7 1059.6,123.0 1060.6,131.3 1061.2,122.5 1062.3,119.9 1063.8,115.4 1064.9,115.6 1065.7,117.2 1066.7,132.1 1067.8,128.8 1068.4,128.7 1069.0,117.1 1069.8,115.6 1070.5,110.0 1071.6,112.9 1072.5,111.9 1073.3,119.9 1074.1,124.9 1075.4,133.9 1076.1,136.0 1077.2,122.5 1077.8,122.3 1078.9,120.8 1079.9,124.1 1080.6,128.7 1081.8,126.1 1082.4,125.2 1083.5,126.1 1085.0,130.4 1085.2,137.4 1085.9,133.1 1087.0,128.7 1087.7,131.5 1088.7,122.5 1089.8,129.3 1090.5,133.9 1091.0,133.0 1091.9,140.9 1092.6,126.8 1093.6,117.3 1094.4,128.0 1095.4,130.4 1096.1,122.7 1097.1,126.9 1098.2,133.3 1098.9,135.6 1100.1,120.8 1101.8,118.3 1102.7,119.0 1104.0,118.0 1104.8,113.8 1105.6,114.7 1106.2,109.4 1107.1,106.8 1107.9,115.6 1108.7,121.5 1109.7,117.3 1111.4,119.9 1112.2,120.5 1113.2,125.2 1113.9,130.5 1114.9,131.3 1115.8,129.4 1116.7,125.2 1117.6,125.2 1118.4,126.9 1119.6,120.5 1120.5,114.7 1121.9,122.5 1122.9,120.6 1123.7,117.3 1124.9,115.8 1125.7,115.6 1126.6,113.8 1128.0,117.3 1129.0,117.9 1129.8,122.5 1131.2,123.4 1132.4,122.5 1133.3,125.2 1135.0,124.3 1135.6,124.7 1136.7,118.2 1138.3,115.7 1139.4,117.3 1140.8,106.0 1142.0,117.3 1143.0,121.9 1143.7,122.5 1144.6,119.3 1146.0,111.2 1146.8,115.4 1148.1,114.7 1149.4,112.7 1150.4,105.1 1151.9,112.9 1152.8,113.9 1154.2,119.0 1155.1,121.7 1156.0,122.5 1157.0,121.7 1158.6,113.8 1160.2,111.9 1161.2,112.9 1162.2,114.8 1163.8,114.7 1165.1,115.4 1166.4,113.8 1167.7,112.6 1169.1,112.9 1170.0,109.8 1171.7,111.2 1172.5,111.1 1173.4,107.7 1174.3,114.0 1175.2,117.3 1176.1,115.9 1176.9,109.4 1177.9,103.4 1178.7,100.7 1179.3,99.0 1180.4,104.2 1181.0,108.6 1182.1,109.4 1183.2,112.3 1183.9,111.2 1184.8,141.7 1186.0,130.4 1187.4,117.3 1188.1,115.8 1189.1,110.3 1190.1,113.4 1191.8,111.2 1193.2,111.0 1194.4,107.7 1195.8,109.0 1197.0,111.2 1198.6,111.8 1199.6,106.8 1200.7,104.9 1202.2,103.3 1203.4,103.6 1204.3,101.6 1205.4,105.4 1206.6,110.3 1208.3,108.2 1209.2,109.4 1210.3,110.0 1211.8,107.7 1212.6,112.8 1213.6,112.9 1214.4,111.6 1215.3,103.3 1216.1,111.3 1217.1,114.7 1218.1,113.3 1218.8,109.4 1219.5,106.0 1220.6,106.8 1221.2,115.6 1222.3,137.4 1223.5,172.3 1224.6,151.4 1225.8,119.9 1226.8,110.2 1227.5,107.7 1228.6,107.8 1230.2,106.8 1230.9,107.4 1231.9,111.2 1232.6,108.8 1233.7,102.5 1234.7,106.6 1236.3,104.2 1237.7,104.3 1238.9,101.6 1240.2,104.7 1241.5,107.7 1242.6,107.1 1243.3,102.5" stroke="#D95319" stroke-width="2.1" stroke-dasharray="6.9 1.3 3.6 1.3"/>
</g>
<g font-size="15.4" fill="#000" stroke="#000" stroke-width="0.35">
<text x="924.9" y="400.9" text-anchor="middle">0</text>
<text x="1004.1" y="400.9" text-anchor="middle">50</text>
<text x="1083.3" y="400.9" text-anchor="middle">100</text>
<text x="1162.4" y="400.9" text-anchor="middle">150</text>
<text x="1241.6" y="400.9" text-anchor="middle">200</text>
<text x="919.2" y="385.9" text-anchor="end">0</text>
<text x="919.2" y="327.7" text-anchor="end">1</text>
<text x="919.2" y="269.6" text-anchor="end">2</text>
<text x="919.2" y="211.4" text-anchor="end">3</text>
<text x="919.2" y="153.3" text-anchor="end">4</text>
<text x="919.2" y="95.1" text-anchor="end">5</text>
<text x="1247.2" y="385.9">20</text>
<text x="1247.2" y="346.2">30</text>
<text x="1247.2" y="306.4">40</text>
<text x="1247.2" y="266.7">50</text>
<text x="1247.2" y="227.0">60</text>
<text x="1247.2" y="187.3">70</text>
<text x="1247.2" y="147.5">80</text>
<text x="1247.2" y="107.8">90</text>
</g>
<g font-size="16.7" fill="#000" stroke="#000" stroke-width="0.3" text-anchor="middle">
<text x="1083.8" y="423.8">Number of epochs</text>
<text transform="translate(904.35,234.9) rotate(-90)">Loss</text>
<text transform="translate(1285.8000000000002,234.9) rotate(-90)">Accuracy (%)</text>
</g>
<text x="1063.8" y="250.5" font-size="15.6" fill="#ff0000" stroke="#ff0000" stroke-width="0.2">Training time = 65.95s</text>
<path d="M925.5,48.2V88M1242.4,44.6V88" stroke="#000" stroke-width="2.6"/>
<path d="M935.7,66.5H1015.7000000000002M1152.4,66.5H1232.4" stroke="#000" stroke-width="2.3"/>
<path d="M926.7,66.5l15.5,-8.2l-3.2,8.2l3.2,8.2zM1241.4,66.5l-15.5,-8.2l3.2,8.2l-3.2,8.2z" fill="#000"/>
<text x="1084.9" y="76.9" font-family="'Liberation Serif',serif" font-size="31.4" text-anchor="middle" fill="#000" stroke="#000" stroke-width="0.35">RGNN[17]</text>
</g>
<g id="p4">
<clipPath id="c4"><rect x="1361.0" y="88.5" width="309.5" height="292.8"/></clipPath>
<path d="M1438.6,89.5V380.3M1515.7,89.5V380.3M1592.7,89.5V380.3M1361.6,331.8H1669.7M1361.6,283.4H1669.7M1361.6,234.9H1669.7M1361.6,186.4H1669.7M1361.6,138.0H1669.7" stroke="#e5e5e5" stroke-width="1" stroke-dasharray="7 1.9 2 1.9" fill="none"/>
<path d="M1361.6,89.5H1669.7V380.3H1361.6ZM1438.6,380.3v-3.2M1438.6,89.5v3.2M1515.7,380.3v-3.2M1515.7,89.5v3.2M1592.7,380.3v-3.2M1592.7,89.5v3.2M1361.6,331.8h3.2M1361.6,283.4h3.2M1361.6,234.9h3.2M1361.6,186.4h3.2M1361.6,138.0h3.2M1669.7,343.9h-3.2M1669.7,307.6h-3.2M1669.7,271.2h-3.2M1669.7,234.9h-3.2M1669.7,198.6h-3.2M1669.7,162.2h-3.2M1669.7,125.9h-3.2" stroke="#333333" stroke-width="1" fill="none"/>
<g clip-path="url(#c4)" fill="none" stroke-linejoin="round" stroke-linecap="butt">
<polyline points="1364.1,111.2 1365.1,142.6 1366.3,172.3 1367.6,196.8 1369.8,221.2 1371.9,235.0 1373.3,243.7 1375.1,254.2 1376.8,264.7 1379.4,275.2 1381.2,283.9 1382.9,287.4 1384.3,285.6 1385.6,294.4 1387.3,303.1 1389.0,301.4 1390.8,311.8 1393.1,318.8 1395.2,316.2 1396.9,325.8 1398.7,329.3 1400.7,326.7 1402.1,334.5 1404.8,339.8 1407.4,341.5 1410.0,342.4 1411.7,339.8 1413.0,346.8 1415.2,348.5 1417.0,353.7 1419.6,355.5 1422.2,355.5 1424.8,359.0 1427.5,359.0 1430.1,362.5 1432.7,363.3 1433.9,359.8 1436.2,367.7 1438.8,366.8 1441.4,367.7 1442.4,369.3 1444.1,370.3 1446.0,371.1 1447.5,369.5 1449.1,369.1 1451.0,370.3 1453.0,371.3 1454.5,371.2 1455.7,372.9 1457.1,373.8 1458.4,373.8 1459.8,372.1 1461.1,372.0 1463.3,373.8 1465.4,374.0 1466.8,374.7 1468.2,375.2 1470.2,373.8 1472.1,373.3 1473.7,374.7 1475.5,374.2 1477.2,372.9 1478.6,374.1 1480.7,374.7 1482.1,373.9 1484.2,373.8 1485.5,373.3 1487.7,374.7 1490.0,373.9 1491.2,373.8 1493.5,373.6 1494.7,373.8 1496.5,375.8 1498.2,375.6 1500.1,374.0 1501.7,374.7 1503.5,375.8 1505.2,376.1 1506.6,374.4 1508.7,374.7 1510.8,375.3 1512.2,375.6 1513.6,374.4 1515.6,372.9 1516.7,374.5 1518.3,374.7 1519.4,374.0 1520.5,375.6 1522.6,373.9 1524.0,374.7 1525.5,374.0 1527.5,376.1 1529.5,373.7 1531.0,373.8 1532.7,373.6 1534.4,375.6 1536.2,375.6 1537.9,374.7 1539.7,374.1 1541.4,373.8 1543.2,374.5 1544.9,375.6 1546.8,374.0 1548.4,374.7 1550.1,373.5 1551.9,373.8 1554.0,375.6 1555.4,374.7 1556.7,373.0 1558.9,372.9 1560.9,374.6 1562.4,375.6 1563.6,375.8 1565.9,374.7 1568.1,375.4 1569.4,376.1 1571.0,375.6 1572.9,374.7 1575.1,374.6 1576.4,375.6 1577.9,373.9 1579.8,373.8 1581.7,374.2 1583.3,374.7 1584.8,375.0 1586.8,376.1 1587.8,374.4 1589.4,372.9 1591.2,370.3 1592.9,374.7 1594.6,376.1 1595.6,376.4 1596.7,376.1 1598.2,372.9 1599.9,375.6 1601.1,372.5 1602.5,370.3 1604.3,376.4 1605.2,374.5 1606.9,373.8 1608.0,373.8 1609.5,375.6 1611.7,374.4 1613.0,374.7 1614.5,375.4 1616.5,375.6 1618.7,375.3 1620.0,376.1 1622.0,374.9 1623.5,374.7 1624.9,375.9 1626.1,376.4 1627.8,376.1 1628.7,374.7 1630.5,372.9 1631.7,365.1 1632.9,373.8 1633.9,375.9 1634.8,376.1 1636.5,375.5 1638.3,375.6 1640.6,375.1 1641.8,374.7 1643.9,375.0 1645.3,376.1 1648.1,376.1 1649.7,375.6 1651.5,376.4 1654.1,374.7 1656.2,374.7 1658.4,375.6 1659.9,373.7 1661.9,373.8 1663.3,375.4 1665.4,376.4 1666.4,374.7 1668.0,373.8 1669.8,375.6" stroke="#0072BD" stroke-width="2.1"/>
<polyline points="1364.1,160.1 1365.1,172.3 1366.3,189.8 1367.6,203.7 1369.3,219.5 1371.6,235.0 1372.5,250.7 1374.2,264.7 1376.8,278.7 1379.4,287.4 1382.1,294.4 1384.7,301.4 1387.3,306.6 1389.9,313.6 1392.5,320.6 1395.2,325.8 1397.8,331.0 1400.7,336.3 1403.9,341.5 1407.4,345.0 1410.9,348.5 1414.4,352.0 1417.9,355.5 1421.4,357.2 1424.8,359.0 1428.3,360.7 1431.8,363.3 1435.3,366.0 1438.8,366.8 1442.3,367.7 1445.7,367.0 1447.5,368.1 1450.5,367.7 1452.8,368.6 1456.2,368.3 1458.0,369.5 1461.2,370.8 1463.3,371.2 1466.4,372.3 1468.5,371.5 1470.7,371.1 1473.7,371.2 1476.7,371.3 1479.0,372.1 1481.2,372.0 1484.2,372.9 1487.4,373.6 1489.5,372.9 1492.5,372.2 1494.7,372.6 1498.0,372.3 1499.9,372.1 1502.1,372.4 1505.2,372.9 1507.7,372.2 1510.4,372.9 1513.1,372.2 1515.6,372.1 1517.3,373.3 1518.7,372.9 1521.1,373.2 1523.1,373.8 1525.8,374.2 1527.5,372.9 1529.2,374.6 1531.0,374.7 1532.8,373.1 1536.2,372.1 1538.3,373.9 1541.4,374.7 1544.3,374.1 1546.7,372.9 1549.0,373.3 1551.9,373.8 1555.1,372.0 1557.1,372.1 1559.2,371.9 1562.4,373.8 1565.0,374.0 1567.6,372.9 1570.3,373.7 1572.9,374.7 1575.5,373.2 1578.1,372.9 1581.4,372.1 1583.3,372.1 1585.5,372.5 1588.6,373.8 1591.7,373.0 1593.8,372.9 1597.1,372.1 1599.1,372.1 1601.6,370.9 1604.3,371.2 1607.5,373.4 1609.5,373.8 1612.1,373.6 1614.8,374.7 1617.4,374.0 1620.0,373.8 1623.2,375.1 1625.2,374.7 1628.2,373.3 1630.5,372.9 1632.4,374.0 1635.7,373.8 1639.0,373.8 1641.0,374.7 1643.6,374.2 1646.2,373.8 1649.6,373.6 1651.4,374.7 1653.4,375.0 1656.7,373.8 1659.4,374.2 1661.9,374.7 1665.0,373.8 1667.2,372.9 1668.6,373.0 1669.8,373.8" stroke="#0072BD" stroke-width="2.1" stroke-dasharray="6.9 1.3 3.6 1.3"/>
<polyline points="1364.1,325.8 1365.1,287.4 1365.8,252.5 1366.3,235.0 1366.3,207.2 1367.2,198.5 1369.8,195.0 1371.6,182.8 1373.3,168.8 1375.1,158.3 1376.8,154.8 1379.4,154.0 1382.1,149.6 1384.3,152.2 1385.6,142.6 1387.3,135.6 1389.0,132.1 1390.8,125.2 1392.5,120.8 1394.8,119.0 1396.9,116.4 1398.7,118.2 1400.0,115.6 1401.3,121.7 1402.5,111.2 1403.9,112.9 1405.6,106.8 1407.4,104.2 1409.5,110.3 1411.7,103.3 1413.5,98.1 1416.1,95.5 1417.9,97.2 1420.0,93.4 1422.2,97.2 1424.0,95.5 1425.7,101.6 1428.0,96.9 1430.1,98.6 1431.8,94.6 1434.4,95.8 1437.1,92.9 1438.8,91.6 1440.6,92.9 1442.3,94.6 1444.1,91.1 1447.5,90.2 1452.8,90.6 1459.8,90.2 1462.9,90.0 1466.0,89.9 1469.1,90.1 1472.2,89.9 1475.3,89.8 1478.4,90.1 1481.5,90.4 1484.6,90.4 1487.7,90.3 1490.8,90.0 1493.9,90.2 1497.0,90.0 1500.1,89.9 1503.2,89.9 1506.3,90.0 1509.4,90.4 1512.5,90.4 1515.6,90.4 1518.7,90.4 1521.8,89.9 1524.9,90.0 1528.0,90.2 1531.1,90.3 1534.2,90.4 1537.3,90.4 1540.4,89.9 1543.5,90.2 1546.6,90.3 1549.7,90.2 1552.8,89.9 1555.9,90.1 1559.0,89.9 1562.1,90.5 1565.2,90.4 1568.3,90.2 1571.4,90.0 1574.5,90.4 1577.6,90.2 1580.7,90.4 1583.8,90.4 1586.9,90.2 1590.0,90.1 1593.1,90.2 1596.2,90.1 1599.3,89.9 1602.4,90.0 1605.5,90.4 1608.6,89.8 1611.7,89.8 1614.8,90.2 1617.9,90.0 1621.0,90.2 1624.1,90.1 1627.2,90.0 1630.3,90.5 1633.4,89.9 1636.5,90.1 1639.6,89.9 1642.7,90.2 1645.8,90.0 1648.9,90.0 1652.0,90.3 1655.1,90.0 1658.2,90.2 1661.3,90.4 1664.4,89.9 1667.5,89.8 1670.3,90.0" stroke="#D95319" stroke-width="2.1"/>
<polyline points="1364.1,214.2 1365.1,198.5 1366.9,188.0 1369.0,179.3 1371.6,170.6 1373.9,160.1 1376.0,155.7 1379.4,154.8 1382.1,150.5 1384.3,151.4 1385.6,143.5 1387.3,136.5 1389.0,133.0 1390.8,126.0 1392.5,121.7 1394.8,119.9 1396.9,117.3 1398.7,119.0 1400.0,116.4 1401.3,120.8 1402.5,112.9 1403.9,113.8 1405.6,107.7 1407.4,105.6 1409.5,109.4 1410.9,104.2 1413.5,101.1 1416.1,100.7 1418.7,101.9 1422.2,101.6 1425.7,100.7 1428.3,98.1 1431.8,96.9 1435.3,95.8 1438.8,93.7 1442.3,93.7 1445.8,95.1 1450.2,94.1 1454.5,94.6 1459.8,93.7 1462.9,93.4 1466.0,93.1 1469.1,92.2 1472.2,92.4 1475.3,92.1 1478.4,92.7 1481.5,91.8 1484.6,93.2 1487.7,93.7 1490.8,93.8 1493.9,93.3 1497.0,93.8 1500.1,91.7 1503.2,92.3 1506.3,93.8 1509.4,93.4 1512.5,92.6 1515.6,93.8 1518.7,93.1 1521.8,93.5 1524.9,92.3 1528.0,92.1 1531.1,92.7 1534.2,92.0 1537.3,92.5 1540.4,93.8 1543.5,92.4 1546.6,91.7 1549.7,91.8 1552.8,92.1 1555.9,93.4 1559.0,92.5 1562.1,92.3 1565.2,91.9 1568.3,93.9 1571.4,92.6 1574.5,92.2 1577.6,91.8 1580.7,91.8 1583.8,92.1 1586.9,93.2 1590.0,92.0 1593.1,91.8 1596.2,92.8 1599.3,92.2 1602.4,93.9 1605.5,92.0 1608.6,92.9 1611.7,93.4 1614.8,92.6 1617.9,93.9 1621.0,92.8 1624.1,92.2 1627.2,92.6 1630.3,91.8 1633.4,92.6 1636.5,92.2 1639.6,93.7 1642.7,93.5 1645.8,92.8 1648.9,91.8 1652.0,92.3 1655.1,92.2 1658.2,92.2 1661.3,92.2 1664.4,93.6 1667.5,92.0 1670.3,91.8" stroke="#D95319" stroke-width="2.1" stroke-dasharray="6.9 1.3 3.6 1.3"/>
</g>
<g font-size="15.4" fill="#000" stroke="#000" stroke-width="0.35">
<text x="1360.8" y="400.9" text-anchor="middle">0</text>
<text x="1437.8" y="400.9" text-anchor="middle">50</text>
<text x="1514.9" y="400.9" text-anchor="middle">100</text>
<text x="1591.9" y="400.9" text-anchor="middle">150</text>
<text x="1668.9" y="400.9" text-anchor="middle">200</text>
<text x="1355.1" y="385.9" text-anchor="end">0</text>
<text x="1355.1" y="337.4" text-anchor="end">0.2</text>
<text x="1355.1" y="289.0" text-anchor="end">0.4</text>
<text x="1355.1" y="240.5" text-anchor="end">0.6</text>
<text x="1355.1" y="192.0" text-anchor="end">0.8</text>
<text x="1355.1" y="143.6" text-anchor="end">1</text>
<text x="1355.1" y="95.1" text-anchor="end">1.2</text>
<text x="1674.5" y="385.9">20</text>
<text x="1674.5" y="349.6">30</text>
<text x="1674.5" y="313.2">40</text>
<text x="1674.5" y="276.9">50</text>
<text x="1674.5" y="240.5">60</text>
<text x="1674.5" y="204.2">70</text>
<text x="1674.5" y="167.8">80</text>
<text x="1674.5" y="131.5">90</text>
<text x="1674.5" y="95.1">100</text>
</g>
<g font-size="16.7" fill="#000" stroke="#000" stroke-width="0.3" text-anchor="middle">
<text x="1514.5" y="423.8">Number of epochs</text>
<text transform="translate(1327.6,234.9) rotate(-90)">Loss</text>
<text transform="translate(1721.5500000000002,234.9) rotate(-90)">Accuracy (%)</text>
</g>
<text x="1492" y="250.5" font-size="15.6" fill="#ff0000" stroke="#ff0000" stroke-width="0.2">Training time = 19.20s</text>
<path d="M1361.3999999999999,44.6V88M1669.7,44.6V88" stroke="#000" stroke-width="2.6"/>
<path d="M1371.6,66.5H1476.9M1554.4,66.5H1659.7" stroke="#000" stroke-width="2.3"/>
<path d="M1362.6,66.5l15.5,-8.2l-3.2,8.2l3.2,8.2zM1668.7,66.5l-15.5,-8.2l3.2,8.2l-3.2,8.2z" fill="#000"/>
<text x="1516.5" y="76.9" font-family="'Liberation Serif',serif" font-size="31.4" text-anchor="middle" fill="#000" stroke="#000" stroke-width="0.35">EGFG</text>
</g>
<g id="p5">
<clipPath id="c5"><rect x="53.8" y="488.0" width="309.8" height="293.1"/></clipPath>
<path d="M131.5,489.0V780.1M208.6,489.0V780.1M285.7,489.0V780.1M54.4,743.7H362.8M54.4,707.3H362.8M54.4,670.9H362.8M54.4,634.6H362.8M54.4,598.2H362.8M54.4,561.8H362.8M54.4,525.4H362.8" stroke="#e5e5e5" stroke-width="1" stroke-dasharray="7 1.9 2 1.9" fill="none"/>
<path d="M54.4,489.0H362.8V780.1H54.4ZM131.5,780.1v-3.2M131.5,489.0v3.2M208.6,780.1v-3.2M208.6,489.0v3.2M285.7,780.1v-3.2M285.7,489.0v3.2M54.4,743.7h3.2M54.4,707.3h3.2M54.4,670.9h3.2M54.4,634.6h3.2M54.4,598.2h3.2M54.4,561.8h3.2M54.4,525.4h3.2M362.8,751.0h-3.2M362.8,721.9h-3.2M362.8,692.8h-3.2M362.8,663.7h-3.2M362.8,634.5h-3.2M362.8,605.4h-3.2M362.8,576.3h-3.2M362.8,547.2h-3.2M362.8,518.1h-3.2" stroke="#333333" stroke-width="1" fill="none"/>
<g clip-path="url(#c5)" fill="none" stroke-linejoin="round" stroke-linecap="butt">
<polyline points="56.1,565.3 57.9,600.2 59.6,635.0 60.8,640.2 61.9,647.2 63.1,636.7 64.0,642.0 64.8,652.5 66.1,672.5 67.5,674.3 69.2,682.1 71.0,692.6 72.7,703.1 74.1,695.2 75.8,724.1 77.9,711.8 80.0,710.1 81.4,717.1 83.2,691.7 84.4,708.3 85.8,727.5 87.5,731.9 89.3,736.3 91.0,741.5 92.8,732.8 94.2,729.3 95.7,749.4 97.1,744.1 98.9,752.0 100.6,744.1 102.4,745.0 104.1,753.7 105.5,759.8 107.3,752.9 109.4,766.0 111.1,753.7 112.5,759.0 114.3,747.6 116.0,757.2 117.7,751.1 119.3,759.0 120.7,750.2 122.5,755.5 123.7,743.3 125.1,767.7 126.8,744.1 128.2,762.5 130.0,755.5 131.2,735.4 132.4,750.2 134.2,764.2 135.6,748.5 137.3,764.2 139.1,753.7 140.8,763.3 142.2,746.8 144.3,755.5 145.7,767.7 146.9,774.7 148.7,769.5 151.3,770.3 153.0,769.5 154.8,772.1 156.9,762.5 159.1,752.0 160.9,760.7 163.5,755.5 166.1,762.5 168.7,765.1 170.5,768.6 172.2,772.1 174.3,767.7 176.1,772.1 178.3,762.5 180.6,753.7 182.7,759.8 185.3,761.6 187.9,765.1 189.7,763.3 191.4,766.8 193.2,764.2 194.6,772.1 196.3,759.8 198.1,759.8 199.3,771.2 201.0,762.5 202.3,768.6 204.0,756.4 205.0,757.2 207.1,767.7 209.4,757.2 212.0,758.1 214.6,754.6 216.3,764.2 218.1,773.8 220.7,772.1 223.3,766.8 226.0,764.2 228.6,761.6 230.3,750.2 231.5,763.3 233.3,778.2 235.0,765.1 236.8,774.7 238.2,769.5 240.8,763.3 242.5,772.9 245.2,772.1 247.3,770.3 248.7,762.5 250.4,774.7 252.1,760.7 254.8,759.0 256.5,760.7 258.3,770.3 260.0,777.3 261.7,765.1 264.4,771.2 266.1,775.6 267.9,768.6 269.6,771.2 271.9,763.3 274.0,766.0 276.6,761.6 278.7,759.0 280.4,759.8 281.8,758.1 284.4,760.7 286.2,769.5 287.9,760.7 290.6,770.3 293.2,764.2 294.9,770.3 296.7,763.3 298.4,769.5 300.7,766.0 301.9,779.1 303.7,771.2 305.9,767.7 308.0,774.7 309.8,777.3 311.9,765.1 314.1,774.7 316.2,779.9 318.5,769.5 321.1,771.2 323.7,772.9 327.2,774.7 329.8,772.9 332.1,759.0 333.9,765.1 335.6,772.9 337.4,764.2 339.1,767.7 341.5,755.5 342.9,759.0 344.3,751.1 346.1,759.8 347.8,752.0 349.1,759.0 351.3,749.4 353.1,744.1 355.2,751.1 357.8,752.0 359.9,745.0 361.6,750.2 363.0,758.1" stroke="#0072BD" stroke-width="2.1"/>
<polyline points="56.1,537.4 57.9,533.9 59.6,523.4 61.9,509.4 63.6,492.0 65.7,489.4 67.5,501.6 69.6,498.1 71.8,499.0 73.6,501.6 75.3,509.4 77.1,512.9 78.8,511.2 80.6,513.8 82.3,522.5 84.0,526.9 85.8,535.6 87.5,544.4 89.3,547.9 91.9,550.0 93.7,544.4 96.3,540.9 98.0,544.4 99.8,554.8 101.2,558.3 103.3,559.2 105.5,561.8 107.3,559.2 109.4,549.6 111.1,539.1 113.2,536.5 115.0,542.6 116.4,554.8 117.6,561.8 119.0,551.4 120.7,546.1 123.3,541.7 125.4,533.9 127.7,530.4 130.3,527.8 132.9,532.1 135.6,531.3 138.2,528.7 139.9,538.3 141.7,535.6 143.4,519.9 145.7,517.3 147.8,524.3 150.4,526.0 153.0,526.9 154.8,519.9 156.0,517.3 158.3,522.5 160.9,524.3 163.5,522.5 165.2,535.6 167.0,545.2 168.7,535.6 170.5,529.5 173.1,532.1 174.8,538.3 177.5,535.6 180.1,538.3 182.7,535.6 184.5,527.8 186.2,526.9 187.6,537.4 189.7,526.9 192.3,526.0 194.9,524.3 198.4,522.5 200.2,533.9 201.9,553.1 204.5,552.2 206.7,537.4 208.8,531.3 210.6,539.1 212.3,554.8 214.1,561.0 215.8,549.6 217.6,528.7 219.3,515.6 221.1,512.9 223.3,519.9 225.6,533.9 227.4,523.4 229.4,519.0 231.2,537.4 233.3,549.6 235.0,533.9 237.3,515.6 239.0,522.5 240.8,533.0 242.5,526.0 244.8,515.6 246.9,510.3 248.7,522.5 250.4,531.3 252.1,526.9 254.2,514.7 256.5,506.8 258.8,502.5 260.9,501.6 262.6,507.7 264.4,516.4 265.8,525.2 267.9,516.4 270.5,527.8 272.7,522.5 274.8,514.7 276.9,506.8 278.7,512.9 281.0,530.4 283.2,526.0 285.7,520.8 287.9,522.5 289.7,526.9 292.3,524.3 294.4,517.3 296.1,519.0 298.4,533.0 300.5,540.9 302.8,530.4 304.9,517.3 306.8,511.2 308.9,518.2 311.0,526.0 313.3,531.3 316.2,536.5 318.1,528.7 319.9,520.8 321.6,531.3 323.7,520.8 325.8,512.1 328.1,517.3 329.8,505.1 332.1,493.7 334.2,503.3 336.0,513.8 338.1,507.7 340.3,511.2 342.9,517.3 344.7,519.9 346.8,512.1 349.1,526.0 350.8,511.2 353.4,494.6 355.5,502.5 357.8,507.7 359.9,506.8 361.6,522.5 363.0,533.0" stroke="#0072BD" stroke-width="2.1" stroke-dasharray="6.9 1.3 3.6 1.3"/>
<polyline points="55.2,707.5 56.6,669.9 58.4,645.5 59.6,635.0 60.5,612.5 61.9,605.5 63.6,616.0 65.4,596.8 66.9,582.8 69.2,576.7 71.0,568.8 72.7,561.8 74.1,580.2 75.8,547.0 77.6,547.9 78.8,561.8 80.0,551.4 81.8,553.1 83.5,575.8 84.9,554.8 86.7,534.8 88.4,535.6 89.8,531.3 91.6,525.2 92.8,537.4 94.2,554.0 95.7,521.7 97.1,530.4 98.9,526.0 101.0,531.3 102.7,533.0 105.0,517.3 106.7,524.3 108.5,519.9 109.9,514.7 111.1,522.5 112.5,521.7 114.6,533.0 116.0,526.0 118.4,527.8 120.7,525.2 121.9,517.3 123.3,535.6 125.1,510.3 126.3,533.9 128.1,510.8 129.4,524.3 131.2,536.5 133.5,521.7 135.0,530.4 136.8,519.9 139.1,522.5 140.4,514.7 142.2,532.1 144.3,516.4 146.6,503.3 148.3,513.8 151.3,514.7 154.2,511.2 156.5,517.3 159.1,528.7 161.8,514.7 164.4,520.8 167.0,514.7 170.1,513.8 171.7,506.8 174.0,518.2 176.1,503.3 179.2,520.8 182.7,521.7 185.3,518.2 187.4,513.8 189.7,516.4 191.4,513.8 193.2,522.5 194.4,506.8 196.7,522.5 198.8,511.2 200.2,523.4 201.9,513.8 203.7,525.2 206.7,515.6 208.8,515.6 211.1,524.3 212.9,522.5 214.6,525.2 216.3,515.6 218.1,506.8 219.8,507.7 221.6,513.8 223.3,511.2 225.1,515.6 226.8,521.7 228.6,511.2 230.3,532.1 232.1,518.2 233.3,507.7 235.0,513.8 236.4,507.7 238.5,507.7 239.9,522.5 242.0,513.8 243.8,507.7 245.5,507.7 247.3,516.4 248.7,507.7 250.4,523.4 252.1,512.9 253.9,519.9 256.2,526.0 258.3,513.8 260.0,507.7 261.7,515.6 263.5,511.2 265.2,503.3 267.0,514.7 268.7,506.8 271.0,518.2 273.1,514.7 274.8,519.9 276.9,515.6 278.7,525.2 280.4,519.9 281.8,526.0 284.4,520.8 286.2,506.8 288.5,518.2 290.6,507.7 292.3,514.7 294.1,511.2 296.7,518.2 299.3,511.2 301.0,503.3 302.8,510.3 305.4,512.1 308.0,510.3 310.3,503.3 312.0,517.3 314.1,504.2 316.8,504.2 319.4,511.2 322.9,510.3 326.4,503.3 328.1,507.7 330.4,506.8 332.1,521.7 333.9,521.7 335.6,511.2 337.4,514.7 339.1,511.2 341.2,525.2 343.8,525.2 346.4,520.8 349.1,522.5 352.2,536.5 354.8,526.0 356.6,522.5 358.3,526.9 360.4,525.2 362.2,532.1 363.0,518.2" stroke="#D95319" stroke-width="2.1"/>
<polyline points="55.2,757.2 57.0,743.3 58.7,750.2 60.5,746.8 61.9,738.0 63.6,750.2 65.4,757.2 66.9,743.3 68.3,738.0 70.1,753.7 71.8,758.1 73.6,755.5 75.8,743.3 77.6,736.3 80.6,735.4 82.3,725.8 84.0,717.1 85.8,708.3 87.5,704.8 89.3,696.1 90.5,694.4 91.9,701.4 93.7,710.1 95.7,717.1 97.1,720.6 98.9,704.8 100.6,686.5 102.4,686.5 104.1,696.1 105.9,697.9 107.3,706.6 109.4,708.3 111.1,720.6 112.5,715.3 114.1,728.4 115.5,701.4 116.7,685.6 118.1,687.4 119.8,699.6 121.6,702.2 123.3,706.6 125.4,711.8 127.2,713.6 128.9,721.4 131.2,720.6 133.5,715.3 136.4,714.4 139.1,715.3 140.4,708.3 142.2,717.1 143.9,720.6 145.2,728.4 146.9,717.1 149.5,714.4 151.3,720.6 153.0,714.4 155.6,715.3 158.3,720.6 160.0,715.3 162.1,735.4 163.5,714.4 165.2,708.3 167.0,711.8 168.4,700.5 170.0,720.6 171.7,711.8 173.1,705.7 174.5,694.4 176.1,704.8 178.3,714.4 180.6,715.3 182.4,701.4 184.1,713.6 185.8,720.6 187.9,708.3 189.7,710.1 191.8,714.4 194.1,714.4 195.8,720.6 198.1,727.5 199.8,711.8 201.0,693.5 202.8,694.4 204.5,704.8 205.0,701.4 207.1,720.6 209.4,704.8 211.1,694.4 212.3,704.8 213.7,679.5 215.1,687.4 216.9,708.3 219.0,735.4 220.7,724.1 222.5,727.5 225.1,716.2 226.8,720.6 229.4,718.8 231.2,703.1 232.9,692.6 234.7,704.0 236.4,728.4 238.5,727.5 240.8,715.3 242.5,727.5 244.3,732.8 246.4,736.3 248.7,722.3 251.3,715.3 253.0,720.6 255.1,734.5 257.4,732.8 259.5,742.4 261.2,743.3 263.5,727.5 265.8,708.3 267.9,727.5 269.3,711.8 271.4,707.5 273.4,715.3 275.7,726.7 278.0,721.4 280.1,715.3 281.8,707.5 283.6,710.1 285.3,725.8 287.1,715.3 289.2,717.1 291.4,714.4 294.1,714.4 296.7,720.6 298.8,708.3 300.7,700.5 302.8,708.3 304.9,725.8 307.1,729.3 309.2,727.5 311.0,710.1 312.7,701.4 314.7,705.7 316.4,701.4 318.5,715.3 320.2,720.6 322.3,718.8 325.5,735.4 328.1,722.3 330.7,743.3 332.8,734.5 335.1,722.3 337.4,725.8 339.5,728.4 341.2,724.1 342.9,720.6 344.7,715.3 346.8,720.6 349.1,707.5 350.8,739.8 353.1,749.4 354.8,730.2 356.9,741.5 359.0,729.3 361.3,713.6 363.0,707.5" stroke="#D95319" stroke-width="2.1" stroke-dasharray="6.9 1.3 3.6 1.3"/>
</g>
<g font-size="15.4" fill="#000" stroke="#000" stroke-width="0.35">
<text x="53.6" y="800.7" text-anchor="middle">0</text>
<text x="130.7" y="800.7" text-anchor="middle">50</text>
<text x="207.8" y="800.7" text-anchor="middle">100</text>
<text x="284.9" y="800.7" text-anchor="middle">150</text>
<text x="362.0" y="800.7" text-anchor="middle">200</text>
<text x="47.9" y="785.7" text-anchor="end">0.8</text>
<text x="47.9" y="749.3" text-anchor="end">0.9</text>
<text x="47.9" y="712.9" text-anchor="end">1</text>
<text x="47.9" y="676.5" text-anchor="end">1.1</text>
<text x="47.9" y="640.2" text-anchor="end">1.2</text>
<text x="47.9" y="603.8" text-anchor="end">1.3</text>
<text x="47.9" y="567.4" text-anchor="end">1.4</text>
<text x="47.9" y="531.0" text-anchor="end">1.5</text>
<text x="47.9" y="494.6" text-anchor="end">1.6</text>
<text x="367.6" y="785.7">0</text>
<text x="367.6" y="756.6">10</text>
<text x="367.6" y="727.5">20</text>
<text x="367.6" y="698.4">30</text>
<text x="367.6" y="669.3">40</text>
<text x="367.6" y="640.1">50</text>
<text x="367.6" y="611.0">60</text>
<text x="367.6" y="581.9">70</text>
<text x="367.6" y="552.8">80</text>
<text x="367.6" y="523.7">90</text>
<text x="367.6" y="494.6">100</text>
</g>
<g font-size="16.7" fill="#000" stroke="#000" stroke-width="0.3" text-anchor="middle">
<text x="208.3" y="823.6">Number of epochs</text>
<text transform="translate(20.4,634.5) rotate(-90)">Loss</text>
<text transform="translate(414.65,634.5) rotate(-90)">Accuracy (%)</text>
</g>
<text x="196.8" y="641.6" font-size="15.6" fill="#ff0000" stroke="#ff0000" stroke-width="0.2">Training time = 37s</text>
</g>
<g id="p6">
<clipPath id="c6"><rect x="489.3" y="488.0" width="318.0" height="293.1"/></clipPath>
<path d="M569.0,489.0V780.1M648.2,489.0V780.1M727.3,489.0V780.1M489.9,774.4H806.5M489.9,717.3H806.5M489.9,660.2H806.5M489.9,603.2H806.5M489.9,546.1H806.5" stroke="#e5e5e5" stroke-width="1" stroke-dasharray="7 1.9 2 1.9" fill="none"/>
<path d="M489.9,489.0H806.5V780.1H489.9ZM569.0,780.1v-3.2M569.0,489.0v3.2M648.2,780.1v-3.2M648.2,489.0v3.2M727.3,780.1v-3.2M727.3,489.0v3.2M489.9,774.4h3.2M489.9,717.3h3.2M489.9,660.2h3.2M489.9,603.2h3.2M489.9,546.1h3.2M806.5,746.3h-3.2M806.5,712.4h-3.2M806.5,678.6h-3.2M806.5,644.8h-3.2M806.5,610.9h-3.2M806.5,577.1h-3.2M806.5,543.2h-3.2M806.5,509.4h-3.2" stroke="#333333" stroke-width="1" fill="none"/>
<g clip-path="url(#c6)" fill="none" stroke-linejoin="round" stroke-linecap="butt">
<polyline points="491.1,678.7 492.9,694.4 494.6,708.3 496.9,715.3 499.0,729.3 501.6,743.3 504.2,755.5 506.8,764.2 509.4,768.6 512.1,769.5 514.7,772.1 518.2,773.5 521.7,774.2 525.2,773.8 526.9,772.9 529.5,772.9 532.1,771.2 533.9,770.3 535.6,772.9 538.3,773.8 540.9,772.9 543.5,772.1 545.2,769.8 547.0,772.6 550.5,772.1 553.1,773.8 556.6,772.1 560.1,772.9 563.6,772.9 565.7,772.1 567.4,766.8 568.8,772.1 571.4,770.3 574.1,767.7 575.8,765.1 577.5,762.5 578.9,769.5 580.2,754.6 581.4,767.7 583.7,770.3 585.9,772.9 588.0,766.0 589.4,772.9 592.4,771.2 594.1,769.5 595.9,765.6 597.6,772.9 601.1,774.2 605.5,773.5 609.0,774.2 614.2,773.8 621.2,774.2 633.4,774.2 650.0,774.2 662.5,774.2 806.5,774.2" stroke="#0072BD" stroke-width="2.1"/>
<polyline points="491.1,687.4 492.0,661.4 492.9,622.9 493.7,659.6 495.1,691.0 496.9,703.3 498.1,701.3 500.7,696.1 502.5,699.6 503.9,710.1 505.1,694.4 506.8,692.6 508.6,678.6 510.3,652.5 512.1,649.0 512.9,636.9 513.8,617.7 515.0,598.5 516.1,607.2 516.8,617.7 518.2,614.2 519.4,593.3 520.8,577.5 522.5,574.9 524.8,574.9 526.6,589.8 528.3,607.2 529.5,618.6 530.7,589.8 531.8,554.8 532.7,517.3 533.5,551.4 534.8,572.3 536.0,584.5 537.4,573.2 538.8,582.8 540.0,607.2 540.9,624.7 541.7,636.9 542.6,624.7 543.5,589.8 544.4,551.4 546.5,547.9 547.9,528.7 549.3,511.2 550.5,493.7 551.4,481.5 557.5,481.5 558.7,506.0 559.7,535.6 561.0,511.2 561.8,481.5 564.4,481.5 565.3,519.9 566.2,563.6 567.4,596.8 568.5,554.8 569.7,511.2 570.6,481.5 571.4,481.5 572.3,519.9 573.2,558.3 573.7,537.4 574.4,582.8 575.1,551.4 575.8,568.8 576.5,537.4 577.2,610.7 577.9,563.6 578.6,582.8 579.3,528.7 580.0,558.3 580.7,589.8 581.4,617.7 582.4,642.2 583.7,669.9 584.9,680.4 586.3,661.2 587.1,636.9 588.0,589.8 588.9,546.1 589.8,492.0 590.6,519.9 591.9,542.6 594.1,550.5 595.4,519.9 596.4,499.0 597.6,481.5 600.2,481.5 601.6,495.5 603.7,507.7 605.5,523.4 607.2,537.4 609.8,551.4 611.6,546.1 613.3,528.7 615.1,512.9 616.8,507.7 619.5,518.2 622.1,511.2 624.7,510.3 627.3,519.9 629.1,522.5 630.8,537.4 632.5,546.1 635.5,554.8 637.8,550.5 640.4,545.2 643.0,542.6 645.6,551.4 648.3,558.3 648.5,558.3 651.1,552.2 653.7,556.6 656.3,557.5 659.0,561.0 662.5,564.4 665.1,561.8 666.8,561.0 668.6,554.0 670.3,549.6 672.1,545.2 673.8,542.6 675.6,545.2 676.8,552.2 678.2,540.9 679.9,532.1 681.3,526.9 682.5,535.6 684.3,549.6 686.0,561.8 688.7,557.5 692.1,557.5 695.6,555.7 697.9,559.2 699.5,554.0 700.9,551.4 703.5,554.8 706.1,554.8 708.2,556.6 710.0,562.7 711.4,563.6 713.1,572.3 714.8,575.8 716.6,575.8 718.3,584.5 720.1,588.9 722.7,588.0 725.3,586.3 727.9,587.1 730.6,584.5 733.2,581.0 734.9,581.9 736.7,575.8 738.4,570.6 740.2,575.8 742.8,576.7 744.2,588.0 745.9,595.0 748.0,599.4 750.6,600.2 753.3,601.1 755.9,602.9 758.5,602.0 760.6,602.0 762.3,611.6 764.1,605.5 766.4,600.2 768.1,605.5 770.7,603.7 773.3,607.2 776.0,610.7 778.1,613.3 780.3,609.8 782.1,607.2 783.8,596.8 786.1,588.9 787.8,598.5 789.9,607.2 792.5,610.7 795.2,609.0 797.3,605.5 799.5,603.7 801.3,608.1 803.9,614.2 806.5,619.5" stroke="#0072BD" stroke-width="2.1" stroke-dasharray="6.9 1.3 3.6 1.3"/>
<polyline points="492.9,779.9 493.7,757.2 494.6,704.8 495.5,652.5 495.8,635.0 497.2,603.7 499.8,579.3 502.5,556.6 504.2,521.7 505.6,506.0 506.8,507.7 508.6,501.6 510.8,508.6 512.9,492.9 515.0,500.7 517.3,497.2 519.9,492.3 522.5,492.3 525.2,492.9 526.9,496.3 528.7,493.7 530.4,497.2 532.5,497.6 534.2,500.7 536.5,492.9 539.1,492.9 540.9,496.3 543.5,497.2 545.2,500.7 547.0,496.9 549.6,496.9 551.4,500.7 553.4,493.4 555.7,496.9 557.5,499.8 559.2,497.2 561.8,496.9 564.4,493.4 566.2,500.7 567.9,500.7 569.7,492.9 571.4,497.2 573.2,502.5 574.9,511.2 577.0,521.7 578.8,501.6 580.2,517.3 581.9,507.7 583.7,497.2 585.8,492.3 587.1,498.1 588.5,508.6 589.8,497.2 591.5,501.6 595.0,501.1 596.8,492.9 599.4,492.3 603.7,492.9 605.5,496.3 607.2,492.3 650.0,492.3 662.5,492.3 806.5,492.3" stroke="#D95319" stroke-width="2.1"/>
<polyline points="491.1,704.8 491.6,725.8 492.3,767.7 493.2,779.9 494.1,739.8 494.8,704.8 495.5,676.9 496.3,687.4 497.2,697.9 498.1,678.7 499.0,652.5 499.8,635.0 500.7,619.5 501.6,635.0 502.1,640.2 502.8,652.5 503.3,635.0 503.7,628.2 504.2,636.7 505.1,656.0 506.0,676.9 506.8,664.7 508.0,668.2 509.4,694.4 510.7,720.6 512.1,678.7 513.3,701.4 515.0,711.8 516.8,704.8 518.2,670.8 519.9,678.7 521.7,692.6 523.4,697.0 525.2,703.1 526.9,694.4 528.3,683.9 529.7,670.8 530.7,704.8 531.8,736.3 533.0,763.3 534.2,713.6 535.6,704.8 537.4,708.3 538.8,701.4 540.5,673.4 542.1,662.1 543.5,704.8 544.7,743.3 546.5,729.3 547.9,753.7 550.5,755.5 552.2,755.5 553.4,771.2 557.5,771.2 558.7,739.8 559.7,713.6 561.0,711.8 561.8,732.8 563.1,763.3 564.4,732.8 565.7,708.3 567.1,687.4 568.8,686.5 570.6,720.6 572.3,701.4 573.7,679.5 574.4,704.8 575.4,745.0 577.0,730.2 578.4,727.5 580.2,687.4 581.9,661.2 583.7,647.2 584.9,645.5 586.3,656.0 588.0,694.4 589.8,720.6 591.9,696.1 593.6,686.5 595.9,679.5 598.5,678.7 600.2,687.4 602.3,703.1 604.6,690.9 607.2,683.0 609.8,678.7 611.6,685.6 613.7,687.4 615.1,704.8 616.8,725.8 618.6,737.1 621.2,736.3 622.9,722.3 624.7,711.8 628.2,711.8 630.8,711.0 632.5,705.7 634.3,711.8 637.8,712.7 640.4,711.8 643.0,704.0 644.8,704.8 646.5,711.8 647.1,711.8 649.4,704.8 651.1,704.0 652.9,711.8 666.8,711.8 668.6,720.6 672.1,720.6 673.8,711.8 679.0,711.8 681.7,720.6 683.4,720.6 684.8,728.4 686.0,720.6 696.5,720.6 698.3,727.5 700.5,737.1 709.6,737.7 711.0,722.3 711.7,712.7 713.4,720.6 725.3,720.6 727.1,725.8 728.8,729.3 740.2,729.3 741.9,728.4 743.7,721.4 745.4,724.1 747.1,720.6 754.1,720.6 755.9,728.4 758.5,728.4 760.2,712.7 763.7,711.8 766.4,720.6 768.1,727.5 769.8,720.6 771.6,725.8 773.3,729.3 775.1,720.6 778.1,712.7 780.3,720.6 782.9,729.3 784.7,728.4 786.4,721.4 788.2,728.4 790.8,729.3 793.1,720.6 796.9,720.6 799.5,732.8 801.3,738.0 803.0,731.0 804.2,720.6 806.5,736.3" stroke="#D95319" stroke-width="2.1" stroke-dasharray="6.9 1.3 3.6 1.3"/>
</g>
<g font-size="15.4" fill="#000" stroke="#000" stroke-width="0.35">
<text x="489.1" y="800.7" text-anchor="middle">0</text>
<text x="568.2" y="800.7" text-anchor="middle">50</text>
<text x="647.4" y="800.7" text-anchor="middle">100</text>
<text x="726.5" y="800.7" text-anchor="middle">150</text>
<text x="805.7" y="800.7" text-anchor="middle">200</text>
<text x="483.4" y="780.0" text-anchor="end">0</text>
<text x="483.4" y="722.9" text-anchor="end">1</text>
<text x="483.4" y="665.8" text-anchor="end">2</text>
<text x="483.4" y="608.8" text-anchor="end">3</text>
<text x="483.4" y="551.7" text-anchor="end">4</text>
<text x="483.4" y="494.6" text-anchor="end">5</text>
<text x="811.3" y="785.7">15</text>
<text x="811.3" y="751.9">25</text>
<text x="811.3" y="718.0">35</text>
<text x="811.3" y="684.2">45</text>
<text x="811.3" y="650.4">55</text>
<text x="811.3" y="616.5">65</text>
<text x="811.3" y="582.7">75</text>
<text x="811.3" y="548.8">85</text>
<text x="811.3" y="515.0">95</text>
</g>
<g font-size="16.7" fill="#000" stroke="#000" stroke-width="0.3" text-anchor="middle">
<text x="647.9" y="823.6">Number of epochs</text>
<text transform="translate(468.55,634.5) rotate(-90)">Loss</text>
<text transform="translate(849.9,634.5) rotate(-90)">Accuracy (%)</text>
</g>
<text x="647.0" y="641.6" font-size="15.6" fill="#ff0000" stroke="#ff0000" stroke-width="0.2">Training time = 46s</text>
</g>
<g id="p7">
<clipPath id="c7"><rect x="925.1" y="488.0" width="318.3" height="293.1"/></clipPath>
<path d="M1004.9,489.0V780.1M1084.2,489.0V780.1M1163.4,489.0V780.1M925.7,759.8H1242.6M925.7,725.9H1242.6M925.7,692.1H1242.6M925.7,658.2H1242.6M925.7,624.4H1242.6M925.7,590.5H1242.6M925.7,556.7H1242.6M925.7,522.9H1242.6" stroke="#e5e5e5" stroke-width="1" stroke-dasharray="7 1.9 2 1.9" fill="none"/>
<path d="M925.7,489.0H1242.6V780.1H925.7ZM1004.9,780.1v-3.2M1004.9,489.0v3.2M1084.2,780.1v-3.2M1084.2,489.0v3.2M1163.4,780.1v-3.2M1163.4,489.0v3.2M925.7,759.8h3.2M925.7,725.9h3.2M925.7,692.1h3.2M925.7,658.2h3.2M925.7,624.4h3.2M925.7,590.5h3.2M925.7,556.7h3.2M925.7,522.9h3.2M1242.6,724.2h-3.2M1242.6,668.3h-3.2M1242.6,612.4h-3.2M1242.6,556.5h-3.2M1242.6,500.6h-3.2" stroke="#333333" stroke-width="1" fill="none"/>
<g clip-path="url(#c7)" fill="none" stroke-linejoin="round" stroke-linecap="butt">
<polyline points="937.5,488.8 938.3,635.0 939.6,661.2 941.0,687.4 942.4,708.3 943.6,718.8 946.2,724.1 947.5,724.5 948.8,725.8 949.8,728.3 951.4,729.3 952.4,730.5 954.0,732.8 955.8,730.2 957.5,734.5 959.2,729.5 960.2,728.4 961.5,731.0 962.8,732.8 963.6,729.9 965.0,725.8 966.2,730.6 967.1,734.5 968.3,730.5 969.2,729.3 970.2,726.7 971.5,725.8 973.3,734.5 975.0,724.9 976.1,731.0 977.3,734.5 978.4,732.1 979.4,728.4 980.6,731.2 982.0,732.8 983.0,732.8 984.6,734.5 986.1,733.8 987.2,731.9 989.0,729.3 990.7,734.5 992.0,732.9 993.3,733.7 994.8,733.5 996.8,735.4 998.3,736.0 1000.3,734.5 1001.8,736.0 1003.8,735.4 1006.0,733.0 1007.3,733.7 1008.9,734.4 1010.8,735.4 1012.0,735.5 1014.3,736.3 1016.5,734.6 1017.8,735.4 1019.6,734.7 1021.3,736.3 1022.6,736.5 1023.9,734.5 1025.0,734.1 1026.5,737.1 1027.8,736.9 1030.0,736.3 1031.2,735.6 1033.5,738.0 1035.2,738.8 1037.0,737.1 1038.7,737.3 1040.5,738.0 1042.4,736.3 1044.0,737.1 1045.8,736.6 1047.5,738.0 1049.3,738.9 1051.0,737.1 1051.9,738.3 1053.6,739.8 1055.0,739.6 1056.2,741.5 1057.9,743.3 1059.7,739.8 1060.8,742.0 1062.3,741.5 1064.0,738.1 1064.9,738.0 1066.4,740.8 1067.5,740.6 1068.6,740.2 1070.2,738.9 1071.1,739.8 1072.8,742.4 1074.5,739.8 1076.3,745.0 1078.0,738.0 1079.8,741.5 1081.5,736.3 1083.3,744.1 1083.5,738.0 1085.2,741.5 1086.7,743.2 1087.9,744.1 1089.4,744.4 1090.5,746.8 1091.7,747.1 1093.1,745.0 1094.5,745.3 1095.7,745.9 1096.9,746.1 1098.3,743.3 1099.7,740.0 1101.0,739.8 1102.7,746.8 1104.2,747.3 1105.3,748.5 1106.6,747.2 1107.9,747.6 1109.2,747.9 1110.6,749.4 1111.5,748.8 1113.2,746.8 1114.0,745.6 1115.4,741.5 1116.2,744.9 1117.5,748.5 1119.1,750.6 1120.2,752.0 1121.6,749.3 1122.8,748.5 1124.3,747.3 1125.4,746.8 1126.5,750.0 1128.0,751.1 1129.2,748.7 1130.6,746.8 1132.2,748.5 1133.3,750.2 1134.7,747.8 1135.9,747.6 1137.5,750.1 1138.5,752.9 1139.5,753.7 1141.1,751.1 1142.2,751.4 1143.7,748.5 1145.5,746.8 1146.8,743.7 1147.6,741.5 1148.4,742.0 1149.8,746.8 1150.9,747.1 1152.5,748.5 1153.9,749.0 1155.1,746.8 1156.3,748.9 1157.7,753.7 1158.9,747.2 1160.0,743.3 1160.8,746.4 1162.1,751.1 1163.5,749.3 1164.7,750.2 1166.0,752.6 1167.3,753.7 1168.8,752.4 1169.9,752.0 1171.5,753.1 1172.5,755.5 1174.0,753.8 1175.2,751.1 1176.8,749.5 1177.8,748.5 1179.5,747.6 1181.3,753.7 1182.3,753.0 1183.9,755.5 1185.2,753.6 1186.5,753.7 1187.9,751.1 1189.1,751.1 1190.7,753.9 1191.8,757.2 1192.7,755.6 1194.4,755.5 1195.6,756.5 1197.0,757.2 1198.2,754.6 1199.6,753.7 1200.9,755.9 1202.2,755.5 1203.6,757.7 1204.8,757.2 1205.8,758.1 1207.5,755.5 1209.1,756.2 1210.1,756.4 1211.4,755.1 1212.7,753.7 1214.3,749.7 1215.3,749.4 1216.7,752.8 1217.9,755.5 1219.1,755.4 1220.6,753.7 1222.0,755.5 1223.2,759.0 1224.6,759.3 1225.8,759.8 1227.1,760.7 1228.4,760.7 1229.4,761.7 1231.0,762.5 1232.2,764.4 1233.7,764.2 1234.8,763.0 1236.3,759.0 1237.8,758.4 1238.9,757.2 1240.5,758.0 1241.5,760.7" stroke="#0072BD" stroke-width="2.1"/>
<polyline points="934.7,488.8 935.4,635.0 935.7,669.9 936.1,704.8 936.9,722.3 938.3,727.5 941.0,731.0 943.6,732.8 946.2,731.9 948.8,734.5 951.4,735.4 954.9,734.5 958.4,735.4 961.9,734.5 965.4,733.7 968.9,734.5 972.5,726.4 976.0,725.0 980.4,730.1 983.0,732.6 985.6,735.8 988.2,732.7 991.7,734.3 994.3,734.9 997.8,735.1 1001.3,735.5 1004.8,735.2 1008.3,733.5 1011.8,736.4 1015.3,738.5 1018.8,735.4 1022.3,736.6 1024.9,736.1 1027.5,739.8 1031.0,737.7 1034.5,738.9 1038.0,739.9 1041.5,737.8 1045.0,739.5 1048.5,738.5 1052.0,737.2 1054.6,739.7 1057.2,742.1 1060.7,742.0 1063.3,741.7 1065.9,739.5 1068.5,742.3 1071.2,739.7 1073.8,743.7 1077.3,744.8 1080.8,741.3 1084.3,744.4 1088.9,745.9 1091.5,747.7 1094.1,745.6 1096.7,747.4 1099.3,744.3 1102.0,740.3 1106.3,750.6 1108.9,749.5 1111.6,749.8 1114.2,748.2 1118.5,749.8 1121.2,754.4 1123.8,750.4 1126.4,747.3 1129.0,753.9 1131.6,746.7 1134.3,751.2 1136.9,749.6 1139.5,752.9 1142.1,752.3 1144.7,748.2 1148.6,743.3 1153.5,750.5 1156.1,748.2 1158.7,756.1 1163.1,751.7 1165.7,752.1 1168.3,755.2 1170.9,753.4 1173.5,756.5 1176.2,753.4 1178.8,751.1 1182.3,754.9 1184.9,757.2 1187.5,753.5 1190.1,753.0 1192.8,758.9 1195.4,758.3 1198.0,759.5 1200.6,754.2 1203.2,756.3 1205.8,759.0 1208.5,755.2 1211.1,757.4 1213.7,753.9 1216.3,749.3 1218.9,755.3 1221.6,755.8 1224.2,759.0 1226.8,760.2 1229.4,761.6 1232.0,764.9 1234.7,764.1 1237.3,760.0 1239.9,758.6 1242.5,763.1" stroke="#0072BD" stroke-width="2.1" stroke-dasharray="6.9 1.3 3.6 1.3"/>
<polyline points="928.4,703.1 929.6,661.4 930.8,712.0 932.2,685.8 933.6,759.0 935.0,656.1 936.6,708.5 938.0,677.1 939.6,717.2 941.0,668.3 942.7,661.4 944.4,719.0 946.2,677.1 947.9,703.3 949.7,680.6 951.4,719.0 953.2,675.3 954.9,720.7 956.7,694.5 958.4,729.5 960.2,670.1 961.9,712.0 963.7,659.6 965.4,726.0 966.8,673.6 968.5,738.0 970.3,668.3 972.0,712.0 973.8,650.9 975.5,685.8 977.6,659.6 980.2,720.6 982.0,677.1 983.7,703.3 985.5,722.3 987.2,668.3 989.0,694.5 990.7,659.6 993.3,710.1 995.4,668.3 997.7,685.8 999.4,696.1 1001.2,663.1 1003.5,685.8 1005.6,656.1 1007.3,677.1 1009.1,696.1 1010.8,659.6 1012.5,696.1 1013.7,676.7 1015.2,668.3 1016.1,655.0 1016.9,659.6 1018.2,665.8 1019.5,677.1 1020.2,668.2 1021.3,652.6 1021.9,653.8 1023.0,659.6 1023.7,654.7 1024.8,668.3 1025.6,662.4 1026.5,642.2 1027.5,643.4 1029.1,659.6 1030.5,657.3 1031.8,638.7 1032.7,643.9 1033.5,652.6 1034.6,633.5 1035.2,636.9 1036.5,614.7 1037.3,607.2 1038.2,588.6 1039.6,579.3 1040.8,624.9 1042.2,668.2 1043.3,641.6 1044.8,598.5 1045.8,619.6 1046.6,642.2 1047.9,602.9 1049.2,582.8 1050.2,605.7 1051.8,661.2 1052.8,616.3 1053.6,582.8 1054.7,589.9 1056.2,595.0 1057.5,590.2 1058.8,593.3 1060.4,603.4 1061.4,603.7 1062.5,611.1 1064.1,617.7 1065.4,619.9 1066.7,607.2 1067.7,610.9 1068.4,621.2 1069.8,603.4 1070.5,605.5 1071.6,637.1 1072.8,661.2 1073.8,632.7 1075.4,589.8 1076.4,599.4 1078.0,607.2 1079.0,612.7 1079.8,614.2 1081.4,591.2 1082.4,582.8 1083.9,594.4 1085.0,600.2 1086.1,582.8 1087.0,574.6 1087.9,568.8 1088.9,594.5 1089.6,596.8 1090.5,582.8 1091.3,561.8 1092.0,562.6 1093.1,553.1 1094.0,614.3 1094.8,647.4 1095.9,600.4 1096.6,575.8 1097.4,584.1 1098.3,586.3 1099.3,599.2 1101.0,624.7 1101.7,585.6 1102.7,546.1 1103.3,545.1 1104.4,528.7 1105.1,553.5 1106.2,605.5 1107.0,589.2 1107.9,554.8 1109.2,513.8 1109.9,539.3 1111.1,584.5 1112.2,598.5 1113.2,596.8 1114.2,619.6 1114.9,622.9 1115.7,586.4 1116.7,542.6 1117.6,551.1 1118.8,544.4 1119.9,570.8 1120.5,596.8 1121.9,563.6 1123.3,506.8 1124.0,537.7 1125.0,596.8 1125.8,575.9 1126.8,547.9 1127.9,565.2 1128.9,589.8 1129.5,580.2 1130.6,567.1 1131.6,559.9 1132.7,548.7 1134.2,584.2 1135.0,598.5 1135.9,585.9 1136.7,568.8 1138.2,541.1 1139.4,534.8 1140.7,570.1 1141.5,582.8 1142.5,615.5 1143.2,626.4 1144.3,588.9 1145.5,550.5 1146.3,579.4 1147.7,619.5 1148.5,601.1 1149.8,593.3 1150.7,579.7 1151.9,576.7 1153.0,580.0 1154.2,603.7 1154.8,586.4 1156.0,574.1 1156.8,562.0 1158.1,549.6 1158.7,589.6 1159.8,640.4 1160.7,580.7 1161.5,541.7 1162.3,574.7 1163.3,626.4 1164.3,590.0 1165.6,563.6 1166.6,576.6 1167.3,568.8 1168.6,575.3 1169.9,582.8 1170.9,559.4 1172.5,541.7 1173.7,545.3 1175.2,560.1 1176.5,567.9 1177.4,584.5 1178.0,608.2 1179.0,625.6 1179.9,579.9 1180.8,549.6 1181.9,531.2 1183.0,532.1 1184.4,549.7 1185.6,547.9 1187.2,544.3 1188.3,535.6 1189.2,543.4 1190.4,560.1 1191.8,528.7 1192.4,551.6 1193.5,572.3 1194.8,544.5 1196.1,506.8 1196.9,542.4 1197.9,598.5 1198.9,566.2 1199.6,527.8 1201.2,566.2 1202.2,581.0 1203.5,557.8 1204.3,533.9 1205.1,559.1 1206.1,593.3 1207.5,513.8 1208.7,523.1 1210.1,554.8 1210.7,543.5 1211.8,535.6 1213.0,558.9 1214.5,581.0 1216.1,548.3 1217.1,531.3 1218.7,572.4 1219.7,581.0 1221.4,567.2 1222.3,563.6 1223.3,551.6 1224.6,547.9 1225.3,541.2 1226.3,546.1 1227.3,529.3 1228.1,499.8 1229.3,506.3 1230.2,511.2 1231.1,526.7 1231.9,528.7 1232.7,521.0 1234.0,499.8 1235.1,528.9 1235.8,537.4 1237.2,512.9 1238.2,507.5 1238.9,504.2 1239.6,530.4 1240.6,554.8 1241.4,538.1 1242.4,504.2 1243.3,516.4" stroke="#D95319" stroke-width="2.1"/>
<polyline points="928.8,703.5 930.0,658.0 931.2,707.9 932.6,686.4 934.0,753.9 935.4,653.9 937.0,707.0 938.4,676.0 940.0,712.4 941.4,667.4 943.1,659.4 944.8,719.8 946.6,671.3 948.3,704.9 950.1,675.9 951.8,719.5 953.6,673.4 955.3,721.4 957.1,690.0 958.8,726.0 960.6,664.8 962.3,712.2 965.0,586.3 966.4,677.1 968.0,594.1 969.8,685.8 971.5,642.2 973.3,694.5 975.9,628.2 978.5,712.0 980.2,720.7 982.5,629.9 984.6,720.7 987.2,587.1 989.0,659.6 990.7,642.2 993.3,677.1 995.1,607.2 996.8,526.0 998.6,607.2 1000.3,659.6 1001.7,607.2 1003.5,545.2 1005.2,582.8 1007.3,589.8 1009.1,642.2 1010.8,607.2 1012.5,589.8 1013.3,578.9 1014.3,541.7 1015.0,578.0 1016.0,624.7 1016.7,626.2 1017.8,642.2 1018.9,625.0 1019.5,624.7 1020.9,586.5 1022.1,555.7 1023.0,622.1 1023.9,692.6 1024.6,664.4 1025.6,607.2 1026.9,577.5 1028.3,593.3 1028.9,591.9 1030.0,603.7 1030.6,589.1 1031.8,575.8 1032.6,572.7 1033.5,552.2 1034.3,545.7 1035.2,554.8 1036.0,576.6 1037.0,582.8 1037.6,594.2 1038.7,607.2 1039.8,577.3 1041.0,535.6 1041.8,557.6 1042.8,575.8 1043.8,582.3 1044.8,582.8 1046.5,534.0 1047.5,501.6 1048.9,572.3 1049.5,558.1 1050.6,558.3 1051.6,569.2 1052.2,575.8 1053.6,567.1 1054.3,573.1 1055.3,560.1 1056.2,540.4 1057.1,513.8 1058.1,545.5 1058.8,572.3 1059.7,584.5 1060.5,580.1 1061.4,558.3 1062.1,555.8 1063.2,538.3 1063.8,561.6 1064.9,589.8 1065.9,608.6 1066.7,607.2 1067.7,609.4 1068.4,610.7 1069.3,588.0 1070.5,572.3 1071.7,556.1 1072.8,540.0 1073.4,560.1 1074.5,572.3 1075.4,586.9 1076.3,593.3 1077.0,590.3 1078.0,598.5 1078.6,592.3 1079.8,589.8 1080.5,580.7 1081.5,572.3 1082.3,574.1 1083.3,561.8 1084.5,579.1 1085.2,600.2 1086.2,579.6 1087.3,570.6 1088.6,592.5 1089.6,593.3 1090.7,594.3 1092.2,582.8 1093.4,582.3 1094.8,603.7 1096.4,608.7 1097.5,617.7 1098.3,617.8 1099.6,621.2 1100.5,591.6 1101.8,554.8 1102.7,547.3 1103.6,542.6 1104.5,559.5 1105.3,582.8 1106.3,580.4 1107.9,598.5 1108.9,599.6 1110.6,600.2 1111.8,610.4 1113.2,609.0 1114.3,620.6 1115.4,623.8 1116.8,595.4 1117.5,593.3 1118.3,576.8 1119.8,567.1 1120.8,574.2 1121.9,579.3 1122.9,551.3 1123.7,535.6 1125.0,534.6 1125.7,549.6 1127.1,555.3 1128.0,568.8 1129.6,580.9 1130.6,603.7 1132.3,604.5 1133.3,596.8 1135.0,614.2 1135.9,621.2 1136.9,625.0 1138.5,607.2 1139.6,608.2 1140.8,626.4 1141.9,606.9 1142.9,589.8 1144.1,586.3 1145.5,596.8 1146.5,601.1 1148.1,603.7 1149.4,586.1 1150.7,582.8 1152.0,595.7 1153.3,600.2 1154.5,605.6 1155.4,610.7 1156.5,599.8 1157.7,593.3 1158.8,572.6 1160.3,558.3 1161.6,580.9 1162.9,621.2 1164.4,623.4 1165.6,617.7 1167.0,597.0 1168.2,596.8 1169.4,581.8 1170.8,567.1 1171.8,577.1 1173.4,568.8 1174.9,564.8 1176.0,561.8 1177.5,550.0 1178.7,551.4 1179.4,540.9 1180.4,525.2 1181.4,533.1 1182.1,533.9 1183.1,557.1 1184.8,593.3 1186.1,562.2 1186.9,535.6 1188.3,549.7 1189.1,542.6 1190.2,540.0 1191.8,546.1 1193.1,572.7 1194.4,579.3 1195.6,571.2 1197.0,542.6 1198.6,552.5 1199.6,558.3 1201.0,556.2 1202.2,537.4 1203.8,532.3 1204.8,535.6 1206.1,589.8 1207.4,562.6 1208.3,554.8 1209.5,570.5 1211.0,568.8 1212.2,588.3 1213.1,607.2 1213.8,614.8 1214.8,619.5 1216.2,575.8 1217.1,540.9 1218.7,557.6 1219.7,560.1 1221.3,557.0 1222.3,551.4 1223.5,548.3 1224.9,547.9 1226.2,551.0 1227.5,553.1 1228.9,539.0 1229.8,537.4 1230.6,535.6 1231.9,519.9 1233.1,568.8 1234.1,549.9 1235.4,528.7 1236.1,548.7 1237.2,563.6 1238.1,536.0 1239.2,509.4 1240.3,536.4 1241.0,554.8 1241.7,542.2 1242.7,507.7" stroke="#D95319" stroke-width="2.1" stroke-dasharray="6.9 1.3 3.6 1.3"/>
</g>
<g font-size="15.4" fill="#000" stroke="#000" stroke-width="0.35">
<text x="924.9" y="800.7" text-anchor="middle">0</text>
<text x="1004.1" y="800.7" text-anchor="middle">50</text>
<text x="1083.4" y="800.7" text-anchor="middle">100</text>
<text x="1162.6" y="800.7" text-anchor="middle">150</text>
<text x="1241.8" y="800.7" text-anchor="middle">200</text>
<text x="919.2" y="765.4" text-anchor="end">1</text>
<text x="919.2" y="731.5" text-anchor="end">1.5</text>
<text x="919.2" y="697.7" text-anchor="end">2</text>
<text x="919.2" y="663.9" text-anchor="end">2.5</text>
<text x="919.2" y="630.0" text-anchor="end">3</text>
<text x="919.2" y="596.1" text-anchor="end">3.5</text>
<text x="919.2" y="562.3" text-anchor="end">4</text>
<text x="919.2" y="528.5" text-anchor="end">4.5</text>
<text x="919.2" y="494.6" text-anchor="end">5</text>
<text x="1247.4" y="785.7">10</text>
<text x="1247.4" y="729.8">20</text>
<text x="1247.4" y="673.9">30</text>
<text x="1247.4" y="618.0">40</text>
<text x="1247.4" y="562.1">50</text>
<text x="1247.4" y="506.2">60</text>
</g>
<g font-size="16.7" fill="#000" stroke="#000" stroke-width="0.3" text-anchor="middle">
<text x="1083.9" y="823.6">Number of epochs</text>
<text transform="translate(891.7,634.5) rotate(-90)">Loss</text>
<text transform="translate(1286.0,634.5) rotate(-90)">Accuracy (%)</text>
</g>
<text x="1076.2" y="670.8" font-size="15.6" fill="#ff0000" stroke="#ff0000" stroke-width="0.2">Training time = 37.90s</text>
</g>
<g id="p8">
<clipPath id="c8"><rect x="1361.0" y="488.0" width="309.5" height="293.1"/></clipPath>
<path d="M1438.6,489.0V780.1M1515.7,489.0V780.1M1592.7,489.0V780.1M1361.6,753.6H1669.7M1361.6,700.7H1669.7M1361.6,647.8H1669.7M1361.6,594.8H1669.7M1361.6,541.9H1669.7" stroke="#e5e5e5" stroke-width="1" stroke-dasharray="7 1.9 2 1.9" fill="none"/>
<path d="M1361.6,489.0H1669.7V780.1H1361.6ZM1438.6,780.1v-3.2M1438.6,489.0v3.2M1515.7,780.1v-3.2M1515.7,489.0v3.2M1592.7,780.1v-3.2M1592.7,489.0v3.2M1361.6,753.6h3.2M1361.6,700.7h3.2M1361.6,647.8h3.2M1361.6,594.8h3.2M1361.6,541.9h3.2M1669.7,743.7h-3.2M1669.7,707.3h-3.2M1669.7,670.9h-3.2M1669.7,634.5h-3.2M1669.7,598.2h-3.2M1669.7,561.8h-3.2M1669.7,525.4h-3.2" stroke="#333333" stroke-width="1" fill="none"/>
<g clip-path="url(#c8)" fill="none" stroke-linejoin="round" stroke-linecap="butt">
<polyline points="1364.1,491.1 1366.3,506.0 1369.0,519.9 1371.6,537.4 1374.2,553.1 1376.0,561.8 1377.4,575.8 1379.4,588.0 1381.2,596.8 1383.8,605.5 1385.6,613.3 1387.3,619.5 1388.5,613.3 1389.9,627.3 1392.5,630.8 1395.2,635.0 1397.8,642.0 1400.4,645.5 1403.0,646.3 1405.6,660.3 1408.3,658.6 1410.5,657.7 1412.6,665.6 1415.2,668.2 1417.9,665.6 1420.0,676.9 1422.2,669.0 1424.8,682.1 1425.7,686.5 1428.3,677.8 1430.1,682.1 1432.7,676.9 1434.4,678.7 1436.2,687.4 1438.8,692.6 1441.4,696.1 1443.2,684.8 1445.8,703.1 1447.5,701.4 1449.3,689.1 1450.7,702.2 1452.8,700.5 1455.4,710.1 1458.0,710.1 1459.4,703.1 1461.5,705.7 1463.3,703.1 1465.9,710.1 1468.1,717.1 1471.1,716.2 1472.9,711.8 1474.6,717.9 1476.4,711.0 1478.1,721.4 1480.4,710.1 1483.3,720.6 1485.1,709.2 1487.7,724.1 1489.5,725.8 1492.1,720.6 1493.8,720.6 1496.8,731.0 1498.5,714.4 1500.3,732.8 1501.7,724.9 1503.4,729.3 1506.0,726.7 1508.3,724.1 1509.5,734.5 1510.0,716.8 1512.6,735.1 1514.4,727.2 1517.0,733.3 1519.6,720.2 1521.3,736.0 1523.1,740.3 1525.7,734.2 1527.5,729.8 1529.2,737.7 1531.0,742.1 1533.6,736.8 1536.2,739.5 1538.8,740.3 1541.4,738.6 1544.0,739.5 1546.7,736.8 1549.3,730.7 1551.0,735.1 1552.8,732.5 1555.4,736.0 1557.1,741.2 1558.9,727.2 1560.3,739.5 1561.9,727.2 1563.3,735.1 1565.0,737.7 1566.7,735.1 1569.4,747.3 1571.1,742.9 1572.9,734.2 1574.6,740.3 1576.4,737.7 1578.1,746.4 1579.8,739.5 1582.5,740.3 1584.2,744.7 1585.4,757.8 1586.8,743.8 1589.4,744.7 1592.1,742.9 1593.8,751.7 1595.6,744.7 1597.3,731.6 1599.1,750.8 1600.8,749.9 1602.5,733.3 1604.3,750.8 1605.7,732.5 1607.4,744.7 1609.2,753.4 1610.9,739.5 1613.0,744.7 1614.8,748.2 1616.5,739.5 1619.1,731.6 1620.9,751.7 1623.1,736.0 1625.2,737.7 1627.0,735.1 1628.7,744.7 1631.4,733.3 1634.0,741.2 1635.7,745.6 1637.5,739.5 1640.1,744.7 1641.8,741.2 1644.5,749.9 1647.1,738.6 1649.7,746.4 1652.3,758.7 1654.6,740.3 1656.7,749.9 1658.1,742.9 1659.8,753.4 1661.9,744.7 1665.1,737.7 1666.8,749.1 1668.9,746.4 1669.8,744.7" stroke="#0072BD" stroke-width="2.1"/>
<polyline points="1364.1,491.1 1366.3,507.7 1369.0,522.5 1371.6,537.4 1374.2,552.2 1376.8,561.8 1379.4,569.7 1382.1,574.1 1384.7,578.4 1387.3,586.3 1389.9,596.8 1392.5,605.5 1395.2,611.6 1397.8,617.7 1400.4,622.9 1403.9,627.3 1407.4,630.8 1410.9,635.0 1414.4,639.4 1417.9,641.1 1421.4,641.1 1424.8,643.7 1428.3,646.3 1431.8,648.1 1435.3,647.2 1438.8,644.6 1442.3,645.5 1445.8,646.9 1449.3,644.6 1452.8,642.9 1456.3,644.6 1459.8,645.1 1463.3,646.3 1466.8,649.0 1469.4,650.7 1472.0,652.5 1475.5,650.7 1479.0,649.0 1482.5,648.1 1486.0,648.6 1489.5,649.0 1492.9,649.8 1496.4,650.7 1499.9,651.1 1503.4,651.6 1506.9,653.3 1510.0,652.1 1513.5,650.4 1517.0,650.0 1520.5,652.1 1524.0,654.8 1527.5,654.4 1531.0,653.9 1534.4,655.6 1537.9,660.0 1541.4,664.4 1544.9,664.4 1548.4,663.5 1551.9,661.7 1555.4,655.6 1558.0,651.3 1560.6,649.5 1563.3,651.3 1565.9,657.4 1569.4,664.4 1572.9,666.1 1576.4,666.1 1579.8,665.2 1583.3,664.4 1586.8,663.5 1590.3,663.1 1593.8,664.0 1597.3,667.0 1600.8,670.5 1604.3,671.7 1607.8,672.2 1611.3,671.9 1614.8,671.4 1617.4,666.1 1620.0,657.4 1622.6,650.4 1625.2,646.0 1627.9,643.8 1630.5,643.8 1633.1,646.9 1635.7,653.9 1638.3,660.0 1641.0,662.6 1644.5,664.0 1647.9,663.5 1651.4,661.2 1654.9,660.9 1658.4,660.9 1661.9,661.7 1665.4,663.5 1668.0,667.0 1669.8,668.7" stroke="#0072BD" stroke-width="2.1" stroke-dasharray="6.9 1.3 3.6 1.3"/>
<polyline points="1363.7,779.9 1364.6,748.5 1365.8,713.6 1367.2,687.4 1369.0,673.4 1370.7,666.4 1372.5,652.5 1373.7,643.7 1374.6,659.4 1376.0,649.0 1377.4,640.2 1379.4,635.0 1380.8,629.9 1382.9,634.3 1385.6,624.7 1387.3,629.9 1389.0,617.7 1390.8,621.2 1392.0,607.2 1393.8,620.3 1395.5,608.1 1397.8,612.5 1400.0,607.2 1401.8,607.2 1403.0,620.3 1404.8,596.8 1406.0,594.1 1407.4,607.2 1409.5,596.8 1410.9,586.3 1412.1,575.8 1413.5,593.3 1414.7,584.5 1416.5,593.3 1418.7,585.4 1420.5,588.0 1422.2,581.9 1424.0,585.4 1425.7,580.2 1427.5,593.3 1429.2,584.5 1431.0,571.4 1432.7,588.0 1434.4,587.1 1436.2,579.3 1438.5,570.6 1440.0,582.8 1441.4,567.1 1442.8,583.7 1444.4,571.4 1445.8,579.3 1447.2,571.4 1449.3,579.3 1451.0,569.7 1453.7,565.3 1455.4,539.1 1457.1,544.4 1458.4,565.3 1460.6,553.1 1462.9,579.3 1465.4,553.1 1467.6,545.2 1469.4,547.9 1471.1,542.6 1473.7,534.8 1475.5,542.6 1476.7,534.8 1478.1,554.8 1479.8,561.0 1481.6,554.8 1483.3,548.7 1485.6,552.2 1487.4,542.6 1489.1,537.4 1490.8,535.6 1492.6,552.2 1494.7,539.1 1496.8,534.8 1498.5,547.0 1500.3,530.4 1502.0,542.6 1503.4,530.4 1504.6,539.1 1506.0,526.0 1507.8,542.6 1509.4,516.4 1510.4,537.4 1512.2,530.4 1514.8,530.4 1516.5,537.4 1518.3,542.6 1520.0,533.9 1521.9,520.8 1524.0,532.1 1526.1,530.4 1528.3,539.1 1531.0,516.4 1533.6,522.5 1535.8,519.0 1537.9,530.4 1540.0,539.1 1541.4,520.8 1543.2,521.7 1544.9,516.4 1547.0,525.2 1548.8,526.9 1550.5,534.8 1552.4,511.2 1554.0,538.3 1556.3,516.4 1558.0,526.9 1559.8,524.3 1561.9,537.4 1563.8,543.5 1565.9,532.1 1567.6,529.5 1569.7,530.4 1572.0,526.0 1574.3,530.4 1576.4,532.1 1577.2,516.4 1579.0,530.4 1580.7,519.9 1581.9,520.8 1583.3,539.1 1585.4,511.2 1587.7,519.9 1589.4,526.0 1591.7,526.0 1592.9,533.9 1594.7,502.5 1596.8,533.9 1599.1,516.4 1600.8,522.5 1602.5,531.3 1603.9,520.8 1605.2,543.5 1606.9,518.2 1608.7,506.8 1610.4,519.9 1612.1,533.9 1614.2,528.7 1616.0,526.0 1617.9,532.1 1620.4,516.4 1621.8,533.9 1623.5,535.6 1625.2,540.9 1627.0,547.9 1629.6,526.0 1631.4,552.2 1633.1,525.2 1635.7,526.0 1637.5,519.9 1640.1,516.4 1642.2,534.8 1644.1,511.2 1646.2,525.2 1648.3,539.1 1650.2,520.8 1652.8,520.8 1654.9,533.9 1657.0,524.3 1659.3,520.8 1660.5,533.9 1662.3,525.2 1664.0,528.7 1666.3,526.0 1668.5,533.9 1669.8,526.9" stroke="#D95319" stroke-width="2.1"/>
<polyline points="1364.1,748.5 1365.5,710.1 1367.2,678.7 1369.0,668.2 1371.6,664.7 1374.2,661.2 1376.8,659.4 1378.6,649.0 1381.2,646.9 1385.6,645.8 1389.9,645.8 1394.3,644.6 1396.9,642.0 1398.7,636.7 1401.3,629.9 1403.9,629.1 1407.4,629.9 1410.9,628.2 1415.2,626.4 1418.7,622.9 1422.2,620.3 1425.7,619.5 1428.3,614.2 1431.0,609.0 1433.6,606.4 1436.2,609.8 1439.7,609.8 1444.1,609.8 1446.7,606.4 1449.3,602.0 1451.9,596.8 1453.7,593.3 1456.3,591.5 1458.0,590.6 1460.6,595.0 1464.1,594.1 1466.8,588.9 1469.4,588.0 1472.0,588.9 1474.6,590.6 1477.2,591.5 1479.8,588.9 1482.5,585.4 1485.1,582.8 1488.6,580.7 1492.9,580.7 1497.3,580.2 1501.7,580.2 1505.2,578.4 1507.8,580.2 1510.0,581.9 1515.2,581.0 1520.5,583.1 1525.7,583.7 1531.8,584.5 1536.2,581.0 1541.4,580.7 1545.8,581.0 1549.3,578.4 1551.9,574.4 1554.5,578.4 1558.0,581.0 1561.5,584.5 1564.1,584.9 1566.7,581.9 1570.2,577.5 1573.7,573.7 1577.2,572.7 1579.8,573.2 1583.3,575.8 1586.8,576.7 1591.2,575.8 1594.7,572.3 1598.2,569.7 1601.7,567.9 1604.3,567.1 1607.8,569.7 1611.3,570.6 1614.8,569.7 1618.3,571.4 1621.8,572.3 1625.2,574.9 1627.9,577.5 1630.5,578.4 1634.0,575.8 1637.5,572.3 1640.1,571.4 1642.7,573.2 1645.3,572.3 1647.9,570.6 1650.6,569.7 1653.2,568.5 1656.7,569.7 1660.2,571.4 1663.7,569.7 1666.3,567.1 1669.8,565.0" stroke="#D95319" stroke-width="2.1" stroke-dasharray="6.9 1.3 3.6 1.3"/>
</g>
<g font-size="15.4" fill="#000" stroke="#000" stroke-width="0.35">
<text x="1360.8" y="800.7" text-anchor="middle">0</text>
<text x="1437.8" y="800.7" text-anchor="middle">50</text>
<text x="1514.9" y="800.7" text-anchor="middle">100</text>
<text x="1591.9" y="800.7" text-anchor="middle">150</text>
<text x="1668.9" y="800.7" text-anchor="middle">200</text>
<text x="1355.1" y="759.2" text-anchor="end">0.4</text>
<text x="1355.1" y="706.3" text-anchor="end">0.6</text>
<text x="1355.1" y="653.4" text-anchor="end">0.8</text>
<text x="1355.1" y="600.4" text-anchor="end">1</text>
<text x="1355.1" y="547.5" text-anchor="end">1.2</text>
<text x="1355.1" y="494.6" text-anchor="end">1.4</text>
<text x="1674.5" y="785.7">20</text>
<text x="1674.5" y="749.3">30</text>
<text x="1674.5" y="712.9">40</text>
<text x="1674.5" y="676.5">50</text>
<text x="1674.5" y="640.1">60</text>
<text x="1674.5" y="603.8">70</text>
<text x="1674.5" y="567.4">80</text>
<text x="1674.5" y="531.0">90</text>
<text x="1674.5" y="494.6">100</text>
</g>
<g font-size="16.7" fill="#000" stroke="#000" stroke-width="0.3" text-anchor="middle">
<text x="1514.5" y="823.6">Number of epochs</text>
<text transform="translate(1327.6,634.5) rotate(-90)">Loss</text>
<text transform="translate(1721.5500000000002,634.5) rotate(-90)">Accuracy (%)</text>
</g>
<text x="1499" y="635.6" font-size="15.6" fill="#ff0000" stroke="#ff0000" stroke-width="0.2">Training time = 12.35s</text>
</g>
<text x="869.5" y="461.9" font-family="'Liberation Serif',serif" font-size="32" text-anchor="middle" fill="#000">(a)</text>
<text x="869.5" y="852.2" font-family="'Liberation Serif',serif" font-size="32" text-anchor="middle" fill="#000">(b)</text>
<rect x="511.7" y="3.8" width="706.3" height="40" fill="#fff" stroke="#262626" stroke-width="1.2"/>
<path d="M518.7,23.45H581.5" stroke="#0072BD" stroke-width="3.4" stroke-linecap="butt"/>
<text x="586.5" y="33" font-size="23.7" fill="#000" stroke="#000" stroke-width="0.45">Train loss</text>
<path d="M701.5,23.45H760" stroke="#0072BD" stroke-width="3.4" stroke-dasharray="16 5.9 4.1 6" stroke-linecap="butt"/>
<text x="768.5" y="33" font-size="23.7" fill="#000" stroke="#000" stroke-width="0.45">Test loss</text>
<path d="M874.3,23.45H937" stroke="#D95319" stroke-width="3.4" stroke-linecap="butt"/>
<text x="942" y="33" font-size="23.7" fill="#000" stroke="#000" stroke-width="0.45">Train acc</text>
<path d="M1051.6,23.45H1110" stroke="#D95319" stroke-width="3.4" stroke-dasharray="16 5.9 4.1 6" stroke-linecap="butt"/>
<text x="1118.3" y="33" font-size="23.7" fill="#000" stroke="#000" stroke-width="0.45">Test acc</text>
</svg>
</body></html>
